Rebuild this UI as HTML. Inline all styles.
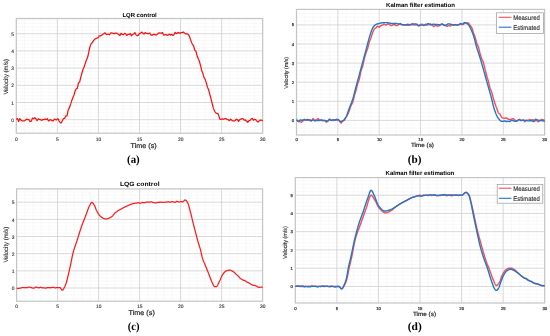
<!DOCTYPE html>
<html><head><meta charset="utf-8"><style>
html,body{margin:0;padding:0;background:#fff;}
body{width:550px;height:336px;overflow:hidden;}
svg{display:block;text-rendering:geometricPrecision;}
.tk{font-family:"Liberation Sans",Arial,sans-serif;font-size:5.0px;fill:#333;stroke:#333;stroke-width:0.12px;}
.tt{font-family:"Liberation Sans",Arial,sans-serif;font-weight:bold;fill:#000;}
.xl{font-family:"Liberation Sans",Arial,sans-serif;fill:#1e1e1e;stroke:#1e1e1e;stroke-width:0.2px;}
.yl{font-family:"Liberation Sans",Arial,sans-serif;fill:#2a2a2a;stroke:#2a2a2a;stroke-width:0.12px;}
.lg{font-family:"Liberation Sans",Arial,sans-serif;fill:#1a1a1a;stroke:#1a1a1a;stroke-width:0.1px;}
.pl{font-family:"Liberation Serif","Times New Roman",serif;font-weight:bold;fill:#000;}
</style></head><body>
<svg width="550" height="336" viewBox="0 0 550 336">
<rect width="550" height="336" fill="#fff"/>
<path d="M24.51 18.50V133.20 M32.73 18.50V133.20 M40.94 18.50V133.20 M49.15 18.50V133.20 M65.58 18.50V133.20 M73.79 18.50V133.20 M82.01 18.50V133.20 M90.22 18.50V133.20 M106.65 18.50V133.20 M114.86 18.50V133.20 M123.07 18.50V133.20 M131.29 18.50V133.20 M147.71 18.50V133.20 M155.93 18.50V133.20 M164.14 18.50V133.20 M172.35 18.50V133.20 M188.78 18.50V133.20 M196.99 18.50V133.20 M205.21 18.50V133.20 M213.42 18.50V133.20 M229.85 18.50V133.20 M238.06 18.50V133.20 M246.27 18.50V133.20 M254.49 18.50V133.20 M16.30 130.02H262.70 M16.30 126.58H262.70 M16.30 123.14H262.70 M16.30 116.26H262.70 M16.30 112.82H262.70 M16.30 109.38H262.70 M16.30 105.94H262.70 M16.30 99.06H262.70 M16.30 95.62H262.70 M16.30 92.18H262.70 M16.30 88.74H262.70 M16.30 81.86H262.70 M16.30 78.42H262.70 M16.30 74.98H262.70 M16.30 71.54H262.70 M16.30 64.66H262.70 M16.30 61.22H262.70 M16.30 57.78H262.70 M16.30 54.34H262.70 M16.30 47.46H262.70 M16.30 44.02H262.70 M16.30 40.58H262.70 M16.30 37.14H262.70 M16.30 30.26H262.70 M16.30 26.82H262.70 M16.30 23.38H262.70 M16.30 19.94H262.70" stroke="#f5f5f5" stroke-width="0.6" fill="none"/>
<path d="M57.37 18.50V133.20 M98.43 18.50V133.20 M139.50 18.50V133.20 M180.57 18.50V133.20 M221.63 18.50V133.20 M16.30 119.70H262.70 M16.30 102.50H262.70 M16.30 85.30H262.70 M16.30 68.10H262.70 M16.30 50.90H262.70 M16.30 33.70H262.70" stroke="#cfcfcf" stroke-width="0.8" fill="none"/>
<rect x="16.30" y="18.50" width="246.40" height="114.70" fill="none" stroke="#c4c4c4" stroke-width="1.2"/>
<text x="16.40" y="140.65" class="tk" text-anchor="middle" style="font-size:4.90px;stroke-width:0.12px">0</text>
<text x="57.47" y="140.65" class="tk" text-anchor="middle" style="font-size:4.90px;stroke-width:0.12px">5</text>
<text x="98.53" y="140.65" class="tk" text-anchor="middle" style="font-size:4.90px;stroke-width:0.12px">10</text>
<text x="139.60" y="140.65" class="tk" text-anchor="middle" style="font-size:4.90px;stroke-width:0.12px">15</text>
<text x="180.67" y="140.65" class="tk" text-anchor="middle" style="font-size:4.90px;stroke-width:0.12px">20</text>
<text x="221.73" y="140.65" class="tk" text-anchor="middle" style="font-size:4.90px;stroke-width:0.12px">25</text>
<text x="262.80" y="140.65" class="tk" text-anchor="middle" style="font-size:4.90px;stroke-width:0.12px">30</text>
<text x="14.10" y="121.85" class="tk" text-anchor="end" style="font-size:4.90px;stroke-width:0.12px">0</text>
<text x="14.10" y="104.65" class="tk" text-anchor="end" style="font-size:4.90px;stroke-width:0.12px">1</text>
<text x="14.10" y="87.45" class="tk" text-anchor="end" style="font-size:4.90px;stroke-width:0.12px">2</text>
<text x="14.10" y="70.25" class="tk" text-anchor="end" style="font-size:4.90px;stroke-width:0.12px">3</text>
<text x="14.10" y="53.05" class="tk" text-anchor="end" style="font-size:4.90px;stroke-width:0.12px">4</text>
<text x="14.10" y="35.85" class="tk" text-anchor="end" style="font-size:4.90px;stroke-width:0.12px">5</text>
<path d="M304.77 9.40V135.00 M313.04 9.40V135.00 M321.31 9.40V135.00 M329.58 9.40V135.00 M346.12 9.40V135.00 M354.39 9.40V135.00 M362.66 9.40V135.00 M370.93 9.40V135.00 M387.47 9.40V135.00 M395.74 9.40V135.00 M404.01 9.40V135.00 M412.28 9.40V135.00 M428.82 9.40V135.00 M437.09 9.40V135.00 M445.36 9.40V135.00 M453.63 9.40V135.00 M470.17 9.40V135.00 M478.44 9.40V135.00 M486.71 9.40V135.00 M494.98 9.40V135.00 M511.52 9.40V135.00 M519.79 9.40V135.00 M528.06 9.40V135.00 M536.33 9.40V135.00 M296.50 131.86H544.60 M296.50 128.04H544.60 M296.50 124.22H544.60 M296.50 116.58H544.60 M296.50 112.76H544.60 M296.50 108.94H544.60 M296.50 105.12H544.60 M296.50 97.48H544.60 M296.50 93.66H544.60 M296.50 89.84H544.60 M296.50 86.02H544.60 M296.50 78.38H544.60 M296.50 74.56H544.60 M296.50 70.74H544.60 M296.50 66.92H544.60 M296.50 59.28H544.60 M296.50 55.46H544.60 M296.50 51.64H544.60 M296.50 47.82H544.60 M296.50 40.18H544.60 M296.50 36.36H544.60 M296.50 32.54H544.60 M296.50 28.72H544.60 M296.50 21.08H544.60 M296.50 17.26H544.60 M296.50 13.44H544.60" stroke="#f5f5f5" stroke-width="0.6" fill="none"/>
<path d="M337.85 9.40V135.00 M379.20 9.40V135.00 M420.55 9.40V135.00 M461.90 9.40V135.00 M503.25 9.40V135.00 M296.50 120.40H544.60 M296.50 101.30H544.60 M296.50 82.20H544.60 M296.50 63.10H544.60 M296.50 44.00H544.60 M296.50 24.90H544.60" stroke="#cfcfcf" stroke-width="0.8" fill="none"/>
<rect x="296.50" y="9.40" width="248.10" height="125.60" fill="none" stroke="#c4c4c4" stroke-width="1.2"/>
<text x="296.60" y="141.24" class="tk" text-anchor="middle" style="font-size:4.30px;stroke-width:0.22px">0</text>
<text x="337.95" y="141.24" class="tk" text-anchor="middle" style="font-size:4.30px;stroke-width:0.22px">5</text>
<text x="379.30" y="141.24" class="tk" text-anchor="middle" style="font-size:4.30px;stroke-width:0.22px">10</text>
<text x="420.65" y="141.24" class="tk" text-anchor="middle" style="font-size:4.30px;stroke-width:0.22px">15</text>
<text x="462.00" y="141.24" class="tk" text-anchor="middle" style="font-size:4.30px;stroke-width:0.22px">20</text>
<text x="503.35" y="141.24" class="tk" text-anchor="middle" style="font-size:4.30px;stroke-width:0.22px">25</text>
<text x="544.70" y="141.24" class="tk" text-anchor="middle" style="font-size:4.30px;stroke-width:0.22px">30</text>
<text x="294.10" y="121.94" class="tk" text-anchor="end" style="font-size:4.30px;stroke-width:0.22px">0</text>
<text x="294.10" y="102.84" class="tk" text-anchor="end" style="font-size:4.30px;stroke-width:0.22px">1</text>
<text x="294.10" y="83.74" class="tk" text-anchor="end" style="font-size:4.30px;stroke-width:0.22px">2</text>
<text x="294.10" y="64.64" class="tk" text-anchor="end" style="font-size:4.30px;stroke-width:0.22px">3</text>
<text x="294.10" y="45.54" class="tk" text-anchor="end" style="font-size:4.30px;stroke-width:0.22px">4</text>
<text x="294.10" y="26.44" class="tk" text-anchor="end" style="font-size:4.30px;stroke-width:0.22px">5</text>
<path d="M24.80 188.90V301.20 M33.00 188.90V301.20 M41.20 188.90V301.20 M49.40 188.90V301.20 M65.80 188.90V301.20 M74.00 188.90V301.20 M82.20 188.90V301.20 M90.40 188.90V301.20 M106.80 188.90V301.20 M115.00 188.90V301.20 M123.20 188.90V301.20 M131.40 188.90V301.20 M147.80 188.90V301.20 M156.00 188.90V301.20 M164.20 188.90V301.20 M172.40 188.90V301.20 M188.80 188.90V301.20 M197.00 188.90V301.20 M205.20 188.90V301.20 M213.40 188.90V301.20 M229.80 188.90V301.20 M238.00 188.90V301.20 M246.20 188.90V301.20 M254.40 188.90V301.20 M16.60 298.30H262.60 M16.60 294.86H262.60 M16.60 291.43H262.60 M16.60 284.57H262.60 M16.60 281.14H262.60 M16.60 277.70H262.60 M16.60 274.27H262.60 M16.60 267.41H262.60 M16.60 263.98H262.60 M16.60 260.54H262.60 M16.60 257.11H262.60 M16.60 250.25H262.60 M16.60 246.82H262.60 M16.60 243.38H262.60 M16.60 239.95H262.60 M16.60 233.09H262.60 M16.60 229.66H262.60 M16.60 226.22H262.60 M16.60 222.79H262.60 M16.60 215.93H262.60 M16.60 212.50H262.60 M16.60 209.06H262.60 M16.60 205.63H262.60 M16.60 198.77H262.60 M16.60 195.34H262.60 M16.60 191.90H262.60" stroke="#f5f5f5" stroke-width="0.6" fill="none"/>
<path d="M57.60 188.90V301.20 M98.60 188.90V301.20 M139.60 188.90V301.20 M180.60 188.90V301.20 M221.60 188.90V301.20 M16.60 288.00H262.60 M16.60 270.84H262.60 M16.60 253.68H262.60 M16.60 236.52H262.60 M16.60 219.36H262.60 M16.60 202.20H262.60" stroke="#cfcfcf" stroke-width="0.8" fill="none"/>
<rect x="16.60" y="188.90" width="246.00" height="112.30" fill="none" stroke="#c4c4c4" stroke-width="1.2"/>
<text x="16.70" y="308.15" class="tk" text-anchor="middle" style="font-size:4.90px;stroke-width:0.12px">0</text>
<text x="57.70" y="308.15" class="tk" text-anchor="middle" style="font-size:4.90px;stroke-width:0.12px">5</text>
<text x="98.70" y="308.15" class="tk" text-anchor="middle" style="font-size:4.90px;stroke-width:0.12px">10</text>
<text x="139.70" y="308.15" class="tk" text-anchor="middle" style="font-size:4.90px;stroke-width:0.12px">15</text>
<text x="180.70" y="308.15" class="tk" text-anchor="middle" style="font-size:4.90px;stroke-width:0.12px">20</text>
<text x="221.70" y="308.15" class="tk" text-anchor="middle" style="font-size:4.90px;stroke-width:0.12px">25</text>
<text x="262.70" y="308.15" class="tk" text-anchor="middle" style="font-size:4.90px;stroke-width:0.12px">30</text>
<text x="14.40" y="290.25" class="tk" text-anchor="end" style="font-size:4.90px;stroke-width:0.12px">0</text>
<text x="14.40" y="273.09" class="tk" text-anchor="end" style="font-size:4.90px;stroke-width:0.12px">1</text>
<text x="14.40" y="255.93" class="tk" text-anchor="end" style="font-size:4.90px;stroke-width:0.12px">2</text>
<text x="14.40" y="238.77" class="tk" text-anchor="end" style="font-size:4.90px;stroke-width:0.12px">3</text>
<text x="14.40" y="221.61" class="tk" text-anchor="end" style="font-size:4.90px;stroke-width:0.12px">4</text>
<text x="14.40" y="204.45" class="tk" text-anchor="end" style="font-size:4.90px;stroke-width:0.12px">5</text>
<path d="M303.61 177.60V303.00 M311.93 177.60V303.00 M320.24 177.60V303.00 M328.55 177.60V303.00 M345.18 177.60V303.00 M353.49 177.60V303.00 M361.81 177.60V303.00 M370.12 177.60V303.00 M386.75 177.60V303.00 M395.06 177.60V303.00 M403.37 177.60V303.00 M411.69 177.60V303.00 M428.31 177.60V303.00 M436.63 177.60V303.00 M444.94 177.60V303.00 M453.25 177.60V303.00 M469.88 177.60V303.00 M478.19 177.60V303.00 M486.51 177.60V303.00 M494.82 177.60V303.00 M511.45 177.60V303.00 M519.76 177.60V303.00 M528.07 177.60V303.00 M536.39 177.60V303.00 M295.30 300.99H544.70 M295.30 297.34H544.70 M295.30 293.70H544.70 M295.30 290.05H544.70 M295.30 282.75H544.70 M295.30 279.10H544.70 M295.30 275.46H544.70 M295.30 271.81H544.70 M295.30 264.51H544.70 M295.30 260.86H544.70 M295.30 257.22H544.70 M295.30 253.57H544.70 M295.30 246.27H544.70 M295.30 242.62H544.70 M295.30 238.98H544.70 M295.30 235.33H544.70 M295.30 228.03H544.70 M295.30 224.38H544.70 M295.30 220.74H544.70 M295.30 217.09H544.70 M295.30 209.79H544.70 M295.30 206.14H544.70 M295.30 202.50H544.70 M295.30 198.85H544.70 M295.30 191.55H544.70 M295.30 187.90H544.70 M295.30 184.26H544.70 M295.30 180.61H544.70" stroke="#f5f5f5" stroke-width="0.6" fill="none"/>
<path d="M336.87 177.60V303.00 M378.43 177.60V303.00 M420.00 177.60V303.00 M461.57 177.60V303.00 M503.13 177.60V303.00 M295.30 286.40H544.70 M295.30 268.16H544.70 M295.30 249.92H544.70 M295.30 231.68H544.70 M295.30 213.44H544.70 M295.30 195.20H544.70" stroke="#cfcfcf" stroke-width="0.8" fill="none"/>
<rect x="295.30" y="177.60" width="249.40" height="125.40" fill="none" stroke="#c4c4c4" stroke-width="1.2"/>
<text x="295.40" y="309.54" class="tk" text-anchor="middle" style="font-size:4.30px;stroke-width:0.22px">0</text>
<text x="336.97" y="309.54" class="tk" text-anchor="middle" style="font-size:4.30px;stroke-width:0.22px">5</text>
<text x="378.53" y="309.54" class="tk" text-anchor="middle" style="font-size:4.30px;stroke-width:0.22px">10</text>
<text x="420.10" y="309.54" class="tk" text-anchor="middle" style="font-size:4.30px;stroke-width:0.22px">15</text>
<text x="461.67" y="309.54" class="tk" text-anchor="middle" style="font-size:4.30px;stroke-width:0.22px">20</text>
<text x="503.23" y="309.54" class="tk" text-anchor="middle" style="font-size:4.30px;stroke-width:0.22px">25</text>
<text x="544.80" y="309.54" class="tk" text-anchor="middle" style="font-size:4.30px;stroke-width:0.22px">30</text>
<text x="292.90" y="288.14" class="tk" text-anchor="end" style="font-size:4.30px;stroke-width:0.22px">0</text>
<text x="292.90" y="269.90" class="tk" text-anchor="end" style="font-size:4.30px;stroke-width:0.22px">1</text>
<text x="292.90" y="251.66" class="tk" text-anchor="end" style="font-size:4.30px;stroke-width:0.22px">2</text>
<text x="292.90" y="233.42" class="tk" text-anchor="end" style="font-size:4.30px;stroke-width:0.22px">3</text>
<text x="292.90" y="215.18" class="tk" text-anchor="end" style="font-size:4.30px;stroke-width:0.22px">4</text>
<text x="292.90" y="196.94" class="tk" text-anchor="end" style="font-size:4.30px;stroke-width:0.22px">5</text>
<path d="M16.30 119.41 L16.46 119.28 L16.63 119.15 L16.79 119.02 L16.96 118.90 L17.12 118.77 L17.29 118.64 L17.45 118.52 L17.62 118.93 L17.78 119.35 L17.94 119.77 L18.11 120.19 L18.27 120.61 L18.44 121.03 L18.60 121.45 L18.77 121.04 L18.93 120.63 L19.09 120.22 L19.26 119.81 L19.42 119.39 L19.59 118.98 L19.75 118.56 L19.92 118.77 L20.08 119.00 L20.25 119.22 L20.41 119.44 L20.57 119.66 L20.74 119.88 L20.90 120.10 L21.07 120.20 L21.23 120.30 L21.40 120.40 L21.56 120.50 L21.72 120.60 L21.89 120.70 L22.05 120.80 L22.22 120.82 L22.38 120.82 L22.55 120.83 L22.71 120.84 L22.88 120.85 L23.04 120.83 L23.20 120.82 L23.37 120.84 L23.53 120.86 L23.70 120.88 L23.86 120.90 L24.03 120.92 L24.19 120.94 L24.35 120.96 L24.52 120.84 L24.68 120.72 L24.85 120.60 L25.01 120.48 L25.18 120.36 L25.34 120.24 L25.51 120.12 L25.67 119.98 L25.83 119.83 L26.00 119.69 L26.16 119.55 L26.33 119.44 L26.49 119.33 L26.66 119.22 L26.82 119.26 L26.98 119.31 L27.15 119.37 L27.31 119.42 L27.48 119.47 L27.64 119.52 L27.81 119.57 L27.97 119.59 L28.14 119.60 L28.30 119.62 L28.46 119.63 L28.63 119.64 L28.79 119.66 L28.96 119.67 L29.12 119.96 L29.29 120.27 L29.45 120.58 L29.61 120.82 L29.78 121.06 L29.94 121.30 L30.11 121.55 L30.27 121.51 L30.44 121.45 L30.60 121.39 L30.77 121.33 L30.93 121.27 L31.09 121.21 L31.26 121.15 L31.42 120.75 L31.59 120.32 L31.75 119.89 L31.92 119.47 L32.08 119.04 L32.24 118.61 L32.41 118.18 L32.57 118.18 L32.74 118.21 L32.90 118.30 L33.07 118.39 L33.23 118.47 L33.40 118.56 L33.56 118.64 L33.72 118.53 L33.89 118.39 L34.05 118.26 L34.22 118.12 L34.38 117.99 L34.55 117.85 L34.71 117.72 L34.87 117.83 L35.04 117.96 L35.20 118.10 L35.37 118.23 L35.53 118.36 L35.70 118.50 L35.86 118.63 L36.03 118.91 L36.19 119.20 L36.35 119.49 L36.52 119.77 L36.68 120.06 L36.85 120.35 L37.01 120.64 L37.18 120.42 L37.34 120.15 L37.50 119.88 L37.67 119.61 L37.83 119.34 L38.00 119.08 L38.16 118.81 L38.33 118.87 L38.49 118.97 L38.66 119.06 L38.82 119.16 L38.98 119.25 L39.15 119.35 L39.31 119.44 L39.48 119.47 L39.64 119.50 L39.81 119.53 L39.97 119.56 L40.13 119.59 L40.30 119.62 L40.46 119.64 L40.63 119.74 L40.79 119.85 L40.96 119.95 L41.12 120.06 L41.29 120.16 L41.45 120.27 L41.61 120.37 L41.78 120.28 L41.94 120.15 L42.11 120.03 L42.27 119.91 L42.44 119.78 L42.60 119.66 L42.76 119.57 L42.93 119.59 L43.09 119.61 L43.26 119.64 L43.42 119.67 L43.59 119.69 L43.75 119.72 L43.92 119.74 L44.08 119.64 L44.24 119.52 L44.41 119.40 L44.57 119.28 L44.74 119.16 L44.90 119.04 L45.07 118.92 L45.23 119.00 L45.39 119.10 L45.56 119.21 L45.72 119.31 L45.89 119.41 L46.05 119.55 L46.22 119.68 L46.38 119.57 L46.55 119.43 L46.71 119.29 L46.87 119.15 L47.04 119.01 L47.20 118.87 L47.37 118.73 L47.53 119.00 L47.70 119.32 L47.86 119.65 L48.02 119.98 L48.19 120.31 L48.35 120.64 L48.52 120.96 L48.68 120.91 L48.85 120.79 L49.01 120.68 L49.18 120.55 L49.34 120.36 L49.50 120.18 L49.67 119.99 L49.83 119.93 L50.00 119.89 L50.16 119.85 L50.33 119.81 L50.49 119.77 L50.65 119.73 L50.82 119.70 L50.98 119.80 L51.15 119.94 L51.31 120.07 L51.48 120.20 L51.64 120.33 L51.81 120.46 L51.97 120.59 L52.13 120.62 L52.30 120.62 L52.46 120.63 L52.63 120.68 L52.79 120.72 L52.96 120.77 L53.12 120.82 L53.28 120.60 L53.45 120.34 L53.61 120.08 L53.78 119.82 L53.94 119.56 L54.11 119.30 L54.27 119.03 L54.44 119.05 L54.60 119.12 L54.76 119.19 L54.93 119.26 L55.09 119.33 L55.26 119.40 L55.42 119.47 L55.59 119.55 L55.75 119.65 L55.91 119.74 L56.08 119.81 L56.24 119.84 L56.41 119.86 L56.57 119.86 L56.74 119.72 L56.90 119.55 L57.07 119.37 L57.23 119.20 L57.39 119.04 L57.56 118.89 L57.72 118.76 L57.89 118.82 L58.05 118.94 L58.22 119.10 L58.38 119.33 L58.54 119.65 L58.71 120.05 L58.87 120.51 L59.04 120.81 L59.20 121.04 L59.37 121.29 L59.53 121.54 L59.70 121.77 L59.86 121.98 L60.02 122.14 L60.19 122.42 L60.35 122.67 L60.52 122.83 L60.68 122.90 L60.85 122.92 L61.01 122.89 L61.17 122.83 L61.34 122.58 L61.50 122.28 L61.67 121.96 L61.83 121.64 L62.00 121.32 L62.16 121.01 L62.33 120.72 L62.49 120.43 L62.65 120.15 L62.82 119.86 L62.98 119.58 L63.15 119.29 L63.31 119.00 L63.48 118.70 L63.64 118.62 L63.80 118.58 L63.97 118.54 L64.13 118.49 L64.30 118.45 L64.46 118.39 L64.63 118.34 L64.79 118.03 L64.96 117.66 L65.12 117.30 L65.28 116.95 L65.45 116.59 L65.61 116.23 L65.78 115.92 L65.94 115.90 L66.11 115.94 L66.27 115.96 L66.43 115.96 L66.60 115.95 L66.76 115.90 L66.93 115.83 L67.09 115.43 L67.26 114.81 L67.42 114.06 L67.59 113.22 L67.75 112.34 L67.91 111.44 L68.08 110.57 L68.24 109.95 L68.41 109.47 L68.57 109.14 L68.74 108.90 L68.90 108.67 L69.06 108.42 L69.23 108.20 L69.39 107.76 L69.56 107.28 L69.72 106.80 L69.89 106.32 L70.05 105.83 L70.22 105.33 L70.38 104.80 L70.54 104.34 L70.71 103.88 L70.87 103.41 L71.04 102.92 L71.20 102.41 L71.37 101.90 L71.53 101.37 L71.69 100.88 L71.86 100.40 L72.02 99.92 L72.19 99.45 L72.35 99.02 L72.52 98.60 L72.68 98.18 L72.85 97.76 L73.01 97.35 L73.17 96.96 L73.34 96.57 L73.50 96.19 L73.67 95.81 L73.83 95.44 L74.00 94.92 L74.16 94.35 L74.32 93.79 L74.49 93.22 L74.65 92.66 L74.82 92.09 L74.98 91.53 L75.15 91.10 L75.31 90.71 L75.48 90.33 L75.64 89.98 L75.80 89.63 L75.97 89.27 L76.13 88.90 L76.30 88.77 L76.46 88.71 L76.63 88.64 L76.79 88.56 L76.95 88.47 L77.12 88.37 L77.28 88.26 L77.45 87.68 L77.61 86.95 L77.78 86.21 L77.94 85.46 L78.11 84.71 L78.27 83.96 L78.43 83.21 L78.60 82.94 L78.76 82.82 L78.93 82.64 L79.09 82.47 L79.26 82.29 L79.42 82.12 L79.58 81.96 L79.75 81.44 L79.91 80.80 L80.08 80.15 L80.24 79.50 L80.41 78.85 L80.57 78.20 L80.74 77.55 L80.90 76.93 L81.06 76.33 L81.23 75.73 L81.39 75.13 L81.56 74.53 L81.72 73.92 L81.89 73.32 L82.05 72.75 L82.21 72.17 L82.38 71.59 L82.54 71.02 L82.71 70.45 L82.87 69.88 L83.04 69.31 L83.20 68.87 L83.37 68.49 L83.53 68.11 L83.69 67.74 L83.86 67.37 L84.02 67.02 L84.19 66.67 L84.35 66.20 L84.52 65.69 L84.68 65.18 L84.84 64.68 L85.01 64.17 L85.17 63.67 L85.34 63.20 L85.50 62.75 L85.67 62.28 L85.83 61.80 L86.00 61.32 L86.16 60.83 L86.32 60.34 L86.49 59.83 L86.65 59.45 L86.82 59.11 L86.98 58.75 L87.15 58.38 L87.31 57.99 L87.47 57.56 L87.64 57.09 L87.80 56.49 L87.97 55.82 L88.13 55.13 L88.30 54.42 L88.46 53.70 L88.63 52.96 L88.79 52.20 L88.95 51.35 L89.12 50.48 L89.28 49.65 L89.45 48.86 L89.61 48.13 L89.78 47.47 L89.94 46.86 L90.10 46.36 L90.27 45.91 L90.43 45.48 L90.60 45.07 L90.76 44.67 L90.93 44.29 L91.09 43.92 L91.26 43.67 L91.42 43.48 L91.58 43.31 L91.75 43.15 L91.91 42.99 L92.08 42.82 L92.24 42.67 L92.41 42.43 L92.57 42.16 L92.73 41.89 L92.90 41.63 L93.06 41.38 L93.23 41.13 L93.39 40.89 L93.56 40.66 L93.72 40.44 L93.89 40.23 L94.05 40.03 L94.21 39.83 L94.38 39.63 L94.54 39.44 L94.71 39.29 L94.87 39.17 L95.04 39.04 L95.20 38.94 L95.36 38.86 L95.53 38.79 L95.69 38.73 L95.86 38.63 L96.02 38.53 L96.19 38.43 L96.35 38.33 L96.52 38.23 L96.68 38.13 L96.84 38.04 L97.01 37.99 L97.17 37.96 L97.34 37.94 L97.50 37.91 L97.67 37.89 L97.83 37.87 L97.99 37.86 L98.16 37.66 L98.32 37.38 L98.49 37.09 L98.65 36.79 L98.82 36.49 L98.98 36.19 L99.15 35.90 L99.31 35.80 L99.47 35.81 L99.64 35.82 L99.80 35.83 L99.97 35.84 L100.13 35.84 L100.30 35.85 L100.46 35.80 L100.63 35.73 L100.79 35.65 L100.95 35.57 L101.12 35.50 L101.28 35.43 L101.45 35.36 L101.61 35.26 L101.78 35.14 L101.94 34.99 L102.10 34.85 L102.27 34.72 L102.43 34.59 L102.60 34.47 L102.76 34.35 L102.93 34.24 L103.09 34.14 L103.26 34.05 L103.42 33.96 L103.58 33.88 L103.75 33.80 L103.91 33.67 L104.08 33.52 L104.24 33.37 L104.41 33.22 L104.57 33.06 L104.73 32.91 L104.90 32.76 L105.06 32.83 L105.23 33.06 L105.39 33.28 L105.56 33.50 L105.72 33.72 L105.89 33.94 L106.05 34.17 L106.21 34.27 L106.38 34.30 L106.54 34.33 L106.71 34.36 L106.87 34.39 L107.04 34.42 L107.20 34.45 L107.36 34.42 L107.53 34.36 L107.69 34.30 L107.86 34.24 L108.02 34.18 L108.19 34.12 L108.35 34.05 L108.52 34.09 L108.68 34.20 L108.84 34.31 L109.01 34.42 L109.17 34.53 L109.34 34.64 L109.50 34.75 L109.67 34.61 L109.83 34.34 L109.99 34.06 L110.16 33.78 L110.32 33.50 L110.49 33.22 L110.65 32.94 L110.82 32.85 L110.98 32.87 L111.15 32.90 L111.31 32.92 L111.47 32.95 L111.64 32.98 L111.80 33.01 L111.97 33.04 L112.13 33.06 L112.30 33.08 L112.46 33.10 L112.62 33.12 L112.79 33.14 L112.95 33.16 L113.12 33.23 L113.28 33.32 L113.45 33.41 L113.61 33.50 L113.78 33.60 L113.94 33.69 L114.10 33.78 L114.27 33.75 L114.43 33.64 L114.60 33.53 L114.76 33.41 L114.93 33.32 L115.09 33.24 L115.25 33.17 L115.42 33.13 L115.58 33.13 L115.75 33.12 L115.91 33.11 L116.08 33.11 L116.24 33.10 L116.41 33.09 L116.57 33.15 L116.73 33.25 L116.90 33.35 L117.06 33.45 L117.23 33.54 L117.39 33.64 L117.56 33.74 L117.72 33.86 L117.88 33.99 L118.05 34.11 L118.21 34.22 L118.38 34.30 L118.54 34.38 L118.71 34.46 L118.87 34.59 L119.04 34.74 L119.20 34.90 L119.36 35.06 L119.53 35.21 L119.69 35.37 L119.86 35.53 L120.02 35.40 L120.19 35.06 L120.35 34.72 L120.51 34.38 L120.68 34.04 L120.84 33.71 L121.01 33.37 L121.17 33.31 L121.34 33.45 L121.50 33.60 L121.67 33.76 L121.83 33.92 L121.99 34.08 L122.16 34.25 L122.32 34.35 L122.49 34.41 L122.65 34.47 L122.82 34.53 L122.98 34.60 L123.14 34.66 L123.31 34.72 L123.47 34.63 L123.64 34.42 L123.80 34.20 L123.97 33.99 L124.13 33.78 L124.30 33.57 L124.46 33.36 L124.62 33.30 L124.79 33.38 L124.95 33.45 L125.12 33.53 L125.28 33.61 L125.45 33.69 L125.61 33.77 L125.77 33.93 L125.94 34.15 L126.10 34.38 L126.27 34.60 L126.43 34.83 L126.60 35.05 L126.76 35.28 L126.93 35.30 L127.09 35.14 L127.25 34.99 L127.42 34.84 L127.58 34.69 L127.75 34.54 L127.91 34.38 L128.08 34.33 L128.24 34.35 L128.40 34.38 L128.57 34.40 L128.73 34.43 L128.90 34.45 L129.06 34.48 L129.23 34.41 L129.39 34.26 L129.56 34.11 L129.72 33.96 L129.88 33.80 L130.05 33.65 L130.21 33.50 L130.38 33.63 L130.54 33.98 L130.71 34.34 L130.87 34.70 L131.03 35.06 L131.20 35.42 L131.36 35.76 L131.53 35.80 L131.69 35.58 L131.86 35.37 L132.02 35.15 L132.19 34.94 L132.35 34.72 L132.51 34.51 L132.68 34.37 L132.84 34.31 L133.01 34.25 L133.17 34.19 L133.34 34.13 L133.50 34.07 L133.66 34.01 L133.83 33.87 L133.99 33.65 L134.16 33.43 L134.32 33.20 L134.49 32.98 L134.65 32.78 L134.82 32.60 L134.98 32.68 L135.14 33.00 L135.31 33.32 L135.47 33.64 L135.64 33.96 L135.80 34.28 L135.97 34.60 L136.13 34.83 L136.29 34.98 L136.46 35.12 L136.62 35.27 L136.79 35.42 L136.95 35.57 L137.12 35.72 L137.28 35.75 L137.45 35.66 L137.61 35.57 L137.77 35.48 L137.94 35.38 L138.10 35.27 L138.27 35.16 L138.43 34.99 L138.60 34.78 L138.76 34.56 L138.92 34.35 L139.09 34.13 L139.25 33.92 L139.42 33.71 L139.58 33.56 L139.75 33.48 L139.91 33.40 L140.08 33.32 L140.24 33.24 L140.40 33.16 L140.57 33.08 L140.73 32.98 L140.90 32.85 L141.06 32.73 L141.23 32.60 L141.39 32.47 L141.55 32.34 L141.72 32.21 L141.88 32.21 L142.05 32.36 L142.21 32.51 L142.38 32.65 L142.54 32.80 L142.71 32.94 L142.87 33.09 L143.03 33.23 L143.20 33.36 L143.36 33.49 L143.53 33.62 L143.69 33.75 L143.86 33.88 L144.02 34.01 L144.18 33.97 L144.35 33.75 L144.51 33.53 L144.68 33.32 L144.84 33.12 L145.01 32.91 L145.17 32.70 L145.34 32.64 L145.50 32.75 L145.66 32.86 L145.83 32.97 L145.99 33.08 L146.16 33.19 L146.32 33.30 L146.49 33.37 L146.65 33.39 L146.81 33.42 L146.98 33.44 L147.14 33.46 L147.31 33.48 L147.47 33.51 L147.64 33.51 L147.80 33.51 L147.97 33.54 L148.13 33.57 L148.29 33.59 L148.46 33.62 L148.62 33.65 L148.79 33.62 L148.95 33.52 L149.12 33.42 L149.28 33.32 L149.44 33.22 L149.61 33.12 L149.77 33.02 L149.94 33.11 L150.10 33.44 L150.27 33.76 L150.43 34.08 L150.60 34.40 L150.76 34.72 L150.92 35.05 L151.09 35.22 L151.25 35.23 L151.42 35.24 L151.58 35.24 L151.75 35.25 L151.91 35.26 L152.07 35.27 L152.24 35.22 L152.40 35.09 L152.57 34.97 L152.73 34.84 L152.90 34.72 L153.06 34.60 L153.23 34.47 L153.39 34.40 L153.55 34.39 L153.72 34.38 L153.88 34.38 L154.05 34.37 L154.21 34.36 L154.38 34.35 L154.54 34.38 L154.70 34.45 L154.87 34.53 L155.03 34.61 L155.20 34.68 L155.36 34.76 L155.53 34.83 L155.69 34.87 L155.86 34.87 L156.02 34.86 L156.18 34.85 L156.35 34.84 L156.51 34.83 L156.68 34.83 L156.84 34.75 L157.01 34.58 L157.17 34.41 L157.33 34.24 L157.50 34.07 L157.66 33.90 L157.83 33.74 L157.99 33.59 L158.16 33.46 L158.32 33.33 L158.49 33.20 L158.65 33.07 L158.81 32.95 L158.98 32.82 L159.14 32.77 L159.31 32.84 L159.47 32.90 L159.64 32.97 L159.80 33.04 L159.96 33.10 L160.13 33.17 L160.29 33.21 L160.46 33.20 L160.62 33.19 L160.79 33.19 L160.95 33.17 L161.12 33.15 L161.28 33.14 L161.44 33.09 L161.61 33.00 L161.77 32.91 L161.94 32.82 L162.10 32.73 L162.27 32.64 L162.43 32.54 L162.59 32.64 L162.76 33.02 L162.92 33.40 L163.09 33.77 L163.25 34.15 L163.42 34.52 L163.58 34.90 L163.75 35.09 L163.91 35.01 L164.07 34.93 L164.24 34.89 L164.40 34.88 L164.57 34.87 L164.73 34.86 L164.90 34.83 L165.06 34.78 L165.22 34.73 L165.39 34.68 L165.55 34.63 L165.72 34.58 L165.88 34.53 L166.05 34.54 L166.21 34.65 L166.38 34.76 L166.54 34.86 L166.70 34.97 L166.87 35.08 L167.03 35.19 L167.20 35.26 L167.36 35.29 L167.53 35.27 L167.69 35.23 L167.85 35.19 L168.02 35.15 L168.18 35.11 L168.35 35.03 L168.51 34.89 L168.68 34.74 L168.84 34.60 L169.01 34.45 L169.17 34.31 L169.33 34.17 L169.50 34.13 L169.66 34.28 L169.83 34.44 L169.99 34.59 L170.16 34.74 L170.32 34.89 L170.48 35.04 L170.65 35.09 L170.81 34.97 L170.98 34.85 L171.14 34.73 L171.31 34.61 L171.47 34.48 L171.64 34.36 L171.80 34.35 L171.96 34.53 L172.13 34.71 L172.29 34.88 L172.46 35.06 L172.62 35.24 L172.79 35.41 L172.95 35.47 L173.11 35.32 L173.28 35.17 L173.44 35.02 L173.61 34.87 L173.77 34.72 L173.94 34.57 L174.10 34.36 L174.27 34.05 L174.43 33.74 L174.59 33.43 L174.76 33.11 L174.92 32.80 L175.09 32.49 L175.25 32.36 L175.42 32.57 L175.58 32.77 L175.74 32.98 L175.91 33.18 L176.07 33.39 L176.24 33.59 L176.40 33.68 L176.57 33.54 L176.73 33.41 L176.90 33.28 L177.06 33.14 L177.22 33.01 L177.39 32.89 L177.55 32.80 L177.72 32.75 L177.88 32.69 L178.05 32.64 L178.21 32.59 L178.37 32.54 L178.54 32.48 L178.70 32.50 L178.87 32.64 L179.03 32.78 L179.20 32.92 L179.36 33.06 L179.53 33.20 L179.69 33.34 L179.85 33.39 L180.02 33.25 L180.18 33.12 L180.35 32.98 L180.51 32.84 L180.68 32.74 L180.84 32.65 L181.01 32.60 L181.17 32.64 L181.33 32.68 L181.50 32.70 L181.66 32.71 L181.83 32.71 L181.99 32.71 L182.16 32.67 L182.32 32.55 L182.48 32.44 L182.65 32.33 L182.81 32.22 L182.98 32.11 L183.14 32.02 L183.31 32.00 L183.47 32.14 L183.64 32.30 L183.80 32.48 L183.96 32.61 L184.13 32.74 L184.29 32.88 L184.46 33.01 L184.62 33.11 L184.79 33.21 L184.95 33.32 L185.11 33.43 L185.28 33.55 L185.44 33.68 L185.61 33.77 L185.77 33.76 L185.94 33.75 L186.10 33.75 L186.27 33.75 L186.43 33.76 L186.59 33.77 L186.76 33.79 L186.92 33.80 L187.09 33.82 L187.25 33.86 L187.42 33.92 L187.58 33.99 L187.74 34.10 L187.91 34.22 L188.07 34.32 L188.24 34.45 L188.40 34.61 L188.57 34.78 L188.73 34.98 L188.90 35.19 L189.06 35.48 L189.22 35.94 L189.39 36.40 L189.55 36.86 L189.72 37.32 L189.88 37.77 L190.05 38.24 L190.21 38.71 L190.37 39.15 L190.54 39.57 L190.70 39.98 L190.87 40.41 L191.03 40.85 L191.20 41.29 L191.36 41.72 L191.53 42.12 L191.69 42.52 L191.85 42.91 L192.02 43.29 L192.18 43.67 L192.35 44.03 L192.51 44.35 L192.68 44.59 L192.84 44.83 L193.00 45.06 L193.17 45.30 L193.33 45.53 L193.50 45.77 L193.66 46.10 L193.83 46.73 L193.99 47.37 L194.16 48.00 L194.32 48.63 L194.48 49.25 L194.65 49.86 L194.81 50.34 L194.98 50.46 L195.14 50.58 L195.31 50.68 L195.47 50.76 L195.63 50.84 L195.80 50.92 L195.96 51.15 L196.13 51.82 L196.29 52.49 L196.46 53.16 L196.62 53.85 L196.79 54.55 L196.95 55.26 L197.11 55.88 L197.28 56.23 L197.44 56.60 L197.61 56.99 L197.77 57.40 L197.94 57.82 L198.10 58.26 L198.26 58.69 L198.43 59.05 L198.59 59.43 L198.76 59.81 L198.92 60.20 L199.09 60.59 L199.25 60.99 L199.42 61.45 L199.58 62.07 L199.74 62.69 L199.91 63.30 L200.07 63.91 L200.24 64.51 L200.40 65.10 L200.57 65.70 L200.73 66.39 L200.89 67.08 L201.06 67.76 L201.22 68.45 L201.39 69.14 L201.55 69.82 L201.72 70.44 L201.88 70.87 L202.05 71.29 L202.21 71.71 L202.37 72.13 L202.54 72.56 L202.70 72.98 L202.87 73.44 L203.03 74.02 L203.20 74.61 L203.36 75.19 L203.52 75.77 L203.69 76.33 L203.85 76.88 L204.02 77.37 L204.18 77.66 L204.35 77.94 L204.51 78.22 L204.68 78.51 L204.84 78.79 L205.00 79.06 L205.17 79.39 L205.33 79.89 L205.50 80.39 L205.66 80.89 L205.83 81.38 L205.99 81.88 L206.15 82.38 L206.32 82.91 L206.48 83.52 L206.65 84.15 L206.81 84.77 L206.98 85.40 L207.14 86.04 L207.31 86.68 L207.47 87.26 L207.63 87.62 L207.80 87.98 L207.96 88.34 L208.13 88.71 L208.29 89.07 L208.46 89.44 L208.62 89.87 L208.78 90.47 L208.95 91.08 L209.11 91.70 L209.28 92.32 L209.44 92.95 L209.61 93.58 L209.77 94.19 L209.94 94.71 L210.10 95.25 L210.26 95.86 L210.43 96.49 L210.59 97.14 L210.76 97.80 L210.92 98.46 L211.09 99.14 L211.25 99.82 L211.41 100.49 L211.58 101.15 L211.74 101.79 L211.91 102.42 L212.07 103.04 L212.24 103.70 L212.40 104.35 L212.57 105.01 L212.73 105.67 L212.89 106.34 L213.06 107.00 L213.22 107.63 L213.39 108.09 L213.55 108.49 L213.72 108.87 L213.88 109.25 L214.04 109.60 L214.21 109.94 L214.37 110.27 L214.54 110.68 L214.70 111.06 L214.87 111.41 L215.03 111.73 L215.20 112.01 L215.36 112.26 L215.52 112.46 L215.69 112.64 L215.85 112.80 L216.02 112.94 L216.18 113.06 L216.35 113.17 L216.51 113.27 L216.67 113.35 L216.84 113.36 L217.00 113.36 L217.17 113.37 L217.33 113.38 L217.50 113.40 L217.66 113.43 L217.83 113.52 L217.99 113.84 L218.15 114.18 L218.32 114.57 L218.48 115.00 L218.65 115.45 L218.81 115.92 L218.98 116.41 L219.14 116.88 L219.30 117.36 L219.47 117.82 L219.63 118.27 L219.80 118.69 L219.96 119.09 L220.13 119.40 L220.29 119.45 L220.46 119.44 L220.62 119.39 L220.78 119.34 L220.95 119.29 L221.11 119.23 L221.28 119.18 L221.44 119.15 L221.61 119.12 L221.77 119.09 L221.93 119.06 L222.10 119.02 L222.26 118.98 L222.43 118.95 L222.59 119.01 L222.76 119.07 L222.92 119.12 L223.09 119.17 L223.25 119.22 L223.41 119.26 L223.58 119.27 L223.74 119.21 L223.91 119.14 L224.07 119.07 L224.24 119.00 L224.40 118.93 L224.56 118.85 L224.73 118.79 L224.89 118.75 L225.06 118.72 L225.22 118.69 L225.39 118.66 L225.55 118.62 L225.72 118.59 L225.88 118.58 L226.04 118.69 L226.21 118.80 L226.37 118.90 L226.54 119.01 L226.70 119.16 L226.87 119.31 L227.03 119.44 L227.19 119.48 L227.36 119.52 L227.52 119.56 L227.69 119.59 L227.85 119.63 L228.02 119.67 L228.18 119.72 L228.35 119.86 L228.51 120.01 L228.67 120.15 L228.84 120.30 L229.00 120.44 L229.17 120.59 L229.33 120.69 L229.50 120.48 L229.66 120.27 L229.82 120.05 L229.99 119.81 L230.15 119.55 L230.32 119.29 L230.48 119.09 L230.65 119.24 L230.81 119.39 L230.98 119.55 L231.14 119.70 L231.30 119.85 L231.47 120.00 L231.63 120.14 L231.80 120.24 L231.96 120.33 L232.13 120.42 L232.29 120.52 L232.45 120.61 L232.62 120.70 L232.78 120.78 L232.95 120.78 L233.11 120.77 L233.28 120.81 L233.44 120.85 L233.61 120.90 L233.77 120.94 L233.93 120.97 L234.10 120.92 L234.26 120.88 L234.43 120.83 L234.59 120.78 L234.76 120.73 L234.92 120.69 L235.08 120.62 L235.25 120.42 L235.41 120.21 L235.58 120.01 L235.74 119.81 L235.91 119.60 L236.07 119.40 L236.24 119.23 L236.40 119.37 L236.56 119.42 L236.73 119.47 L236.89 119.51 L237.06 119.56 L237.22 119.60 L237.39 119.67 L237.55 119.92 L237.71 120.17 L237.88 120.42 L238.04 120.67 L238.21 120.93 L238.37 121.18 L238.54 121.38 L238.70 121.14 L238.87 120.89 L239.03 120.65 L239.19 120.40 L239.36 120.16 L239.52 119.92 L239.69 119.69 L239.85 119.61 L240.02 119.54 L240.18 119.47 L240.34 119.39 L240.51 119.32 L240.67 119.25 L240.84 119.18 L241.00 119.11 L241.17 119.04 L241.33 118.97 L241.50 118.90 L241.66 118.83 L241.82 118.76 L241.99 118.70 L242.15 118.71 L242.32 118.72 L242.48 118.73 L242.65 118.74 L242.81 118.75 L242.97 118.76 L243.14 118.87 L243.30 119.07 L243.47 119.28 L243.63 119.48 L243.80 119.68 L243.96 119.88 L244.13 120.08 L244.29 120.26 L244.45 120.21 L244.62 120.17 L244.78 120.12 L244.95 120.07 L245.11 120.02 L245.28 119.97 L245.44 119.94 L245.60 120.14 L245.77 120.34 L245.93 120.53 L246.10 120.73 L246.26 120.93 L246.43 121.02 L246.59 121.11 L246.76 121.28 L246.92 121.45 L247.08 121.62 L247.25 121.78 L247.41 121.95 L247.58 122.12 L247.74 122.26 L247.91 122.05 L248.07 121.83 L248.23 121.61 L248.40 121.39 L248.56 121.18 L248.73 120.96 L248.89 120.75 L249.06 120.71 L249.22 120.68 L249.39 120.64 L249.55 120.60 L249.71 120.56 L249.88 120.52 L250.04 120.47 L250.21 120.23 L250.37 119.99 L250.54 119.75 L250.70 119.51 L250.86 119.27 L251.03 119.03 L251.19 118.79 L251.36 118.74 L251.52 118.69 L251.69 118.64 L251.85 118.59 L252.02 118.54 L252.18 118.49 L252.34 118.45 L252.51 118.66 L252.67 118.88 L252.84 119.10 L253.00 119.38 L253.17 119.67 L253.33 119.96 L253.49 120.23 L253.66 120.10 L253.82 119.98 L253.99 119.86 L254.15 119.74 L254.32 119.61 L254.48 119.49 L254.65 119.37 L254.81 119.41 L254.97 119.45 L255.14 119.49 L255.30 119.52 L255.47 119.56 L255.63 119.60 L255.80 119.64 L255.96 119.86 L256.12 120.07 L256.29 120.30 L256.45 120.54 L256.62 120.77 L256.78 121.00 L256.95 121.23 L257.11 121.35 L257.28 121.47 L257.44 121.60 L257.60 121.72 L257.77 121.84 L257.93 121.96 L258.10 122.07 L258.26 121.88 L258.43 121.68 L258.59 121.49 L258.75 121.29 L258.92 121.10 L259.08 120.90 L259.25 120.71 L259.41 120.73 L259.58 120.62 L259.74 120.51 L259.91 120.41 L260.07 120.30 L260.23 120.19 L260.40 120.09 L260.56 120.10 L260.73 120.11 L260.89 120.12 L261.06 120.13 L261.22 120.14 L261.38 120.15 L261.55 120.16 L261.71 120.28 L261.88 120.40 L262.04 120.52 L262.21 120.63 L262.37 120.75 L262.54 120.87 L262.70 120.99" stroke="#ff0d0d" stroke-width="1.25" fill="none" stroke-linejoin="round"/>
<path d="M296.50 119.80 L296.78 120.04 L297.05 120.28 L297.33 120.52 L297.60 120.76 L297.88 121.00 L298.16 121.24 L298.43 121.33 L298.71 121.41 L298.98 121.50 L299.26 121.58 L299.54 121.67 L299.81 121.75 L300.09 121.84 L300.36 121.93 L300.64 122.02 L300.92 122.11 L301.19 122.20 L301.47 122.29 L301.74 122.02 L302.02 121.76 L302.30 121.49 L302.57 121.23 L302.85 120.96 L303.12 120.70 L303.40 120.47 L303.68 120.24 L303.95 120.01 L304.23 119.78 L304.50 119.55 L304.78 119.33 L305.06 119.51 L305.33 119.68 L305.61 119.86 L305.88 120.03 L306.16 120.20 L306.44 120.37 L306.71 120.30 L306.99 120.23 L307.26 120.16 L307.54 120.09 L307.81 120.03 L308.09 119.96 L308.37 119.88 L308.64 119.81 L308.92 119.74 L309.19 119.66 L309.47 119.59 L309.75 119.54 L310.02 119.81 L310.30 120.08 L310.57 120.35 L310.85 120.63 L311.13 120.90 L311.40 121.13 L311.68 120.69 L311.95 120.25 L312.23 119.81 L312.51 119.36 L312.78 118.92 L313.06 118.54 L313.33 118.98 L313.61 119.42 L313.89 119.86 L314.16 120.30 L314.44 120.74 L314.71 121.14 L314.99 120.96 L315.27 120.78 L315.54 120.60 L315.82 120.42 L316.09 120.24 L316.37 120.06 L316.65 119.80 L316.92 119.53 L317.20 119.27 L317.47 119.01 L317.75 118.75 L318.03 118.54 L318.30 118.87 L318.58 119.20 L318.85 119.53 L319.13 119.87 L319.41 120.20 L319.68 120.50 L319.96 120.46 L320.23 120.43 L320.51 120.40 L320.79 120.36 L321.06 120.33 L321.34 120.31 L321.61 120.40 L321.89 120.49 L322.17 120.58 L322.44 120.67 L322.72 120.76 L322.99 120.83 L323.27 120.71 L323.55 120.58 L323.82 120.46 L324.10 120.34 L324.37 120.22 L324.65 120.15 L324.93 120.51 L325.20 120.86 L325.48 121.21 L325.75 121.56 L326.03 121.92 L326.31 122.20 L326.58 121.99 L326.86 121.78 L327.13 121.57 L327.41 121.35 L327.68 121.14 L327.96 120.91 L328.24 120.58 L328.51 120.24 L328.79 119.91 L329.06 119.57 L329.34 119.23 L329.62 118.97 L329.89 119.18 L330.17 119.40 L330.44 119.61 L330.72 119.82 L331.00 120.04 L331.27 120.23 L331.55 120.29 L331.82 120.36 L332.10 120.42 L332.38 120.49 L332.65 120.55 L332.93 120.59 L333.20 120.51 L333.48 120.42 L333.76 120.33 L334.03 120.24 L334.31 120.15 L334.58 120.08 L334.86 120.07 L335.14 120.07 L335.41 120.06 L335.69 120.05 L335.96 120.05 L336.24 120.05 L336.52 120.09 L336.79 120.12 L337.07 120.16 L337.34 120.20 L337.62 120.24 L337.90 120.26 L338.17 120.23 L338.45 120.25 L338.72 120.31 L339.00 120.39 L339.28 120.48 L339.55 120.66 L339.83 121.14 L340.10 121.62 L340.38 122.07 L340.66 122.50 L340.93 122.88 L341.21 123.10 L341.48 122.76 L341.76 122.38 L342.04 121.97 L342.31 121.52 L342.59 121.05 L342.86 120.65 L343.14 120.63 L343.42 120.59 L343.69 120.53 L343.97 120.45 L344.24 120.36 L344.52 120.17 L344.80 119.65 L345.07 119.13 L345.35 118.59 L345.62 118.04 L345.90 117.49 L346.18 117.00 L346.45 116.70 L346.73 116.31 L347.00 115.85 L347.28 115.31 L347.56 114.72 L347.83 114.10 L348.11 113.46 L348.38 112.80 L348.66 112.13 L348.93 111.46 L349.21 110.81 L349.49 110.13 L349.76 109.26 L350.04 108.44 L350.31 107.63 L350.59 106.84 L350.87 106.05 L351.14 105.33 L351.42 104.81 L351.69 104.30 L351.97 103.77 L352.25 103.23 L352.52 102.68 L352.80 102.01 L353.07 100.99 L353.35 99.94 L353.63 98.86 L353.90 97.74 L354.18 96.56 L354.45 95.44 L354.73 94.61 L355.01 93.76 L355.28 92.88 L355.56 92.00 L355.83 91.13 L356.11 90.19 L356.39 89.07 L356.66 87.94 L356.94 86.80 L357.21 85.66 L357.49 84.51 L357.77 83.46 L358.04 82.72 L358.32 81.98 L358.59 81.23 L358.87 80.49 L359.15 79.74 L359.42 78.83 L359.70 77.42 L359.97 76.00 L360.25 74.60 L360.53 73.19 L360.80 71.78 L361.08 70.55 L361.35 69.81 L361.63 69.07 L361.91 68.33 L362.18 67.59 L362.46 66.85 L362.73 65.98 L363.01 64.72 L363.29 63.47 L363.56 62.22 L363.84 60.96 L364.11 59.71 L364.39 58.53 L364.67 57.57 L364.94 56.60 L365.22 55.64 L365.49 54.67 L365.77 53.70 L366.05 52.80 L366.32 52.06 L366.60 51.33 L366.87 50.61 L367.15 49.91 L367.43 49.24 L367.70 48.44 L367.98 47.32 L368.25 46.20 L368.53 45.09 L368.81 44.00 L369.08 42.92 L369.36 41.95 L369.63 41.22 L369.91 40.52 L370.18 39.82 L370.46 39.15 L370.74 38.50 L371.01 37.76 L371.29 36.84 L371.56 35.93 L371.84 35.05 L372.12 34.19 L372.39 33.38 L372.67 32.63 L372.94 31.94 L373.22 31.29 L373.50 30.67 L373.77 30.06 L374.05 29.48 L374.32 29.01 L374.60 28.74 L374.88 28.49 L375.15 28.27 L375.43 28.08 L375.70 27.92 L375.98 27.72 L376.26 27.42 L376.53 27.13 L376.81 26.85 L377.08 26.59 L377.36 26.33 L377.64 26.22 L377.91 26.37 L378.19 26.54 L378.46 26.72 L378.74 26.92 L379.02 27.13 L379.29 27.18 L379.57 26.89 L379.84 26.61 L380.12 26.34 L380.40 26.07 L380.67 25.80 L380.95 25.59 L381.22 25.51 L381.50 25.42 L381.78 25.34 L382.05 25.25 L382.33 25.16 L382.60 25.04 L382.88 24.87 L383.16 24.69 L383.43 24.52 L383.71 24.34 L383.98 24.17 L384.26 24.11 L384.54 24.29 L384.81 24.47 L385.09 24.66 L385.36 24.85 L385.64 25.04 L385.92 25.09 L386.19 24.88 L386.47 24.68 L386.74 24.48 L387.02 24.29 L387.30 24.11 L387.57 23.99 L387.85 23.99 L388.12 23.99 L388.40 24.00 L388.68 24.01 L388.95 24.01 L389.23 24.12 L389.50 24.39 L389.78 24.66 L390.05 24.93 L390.33 25.20 L390.61 25.47 L390.88 25.62 L391.16 25.54 L391.43 25.47 L391.71 25.40 L391.99 25.34 L392.26 25.27 L392.54 25.15 L392.81 24.95 L393.09 24.74 L393.37 24.54 L393.64 24.34 L393.92 24.14 L394.19 24.12 L394.47 24.37 L394.75 24.62 L395.02 24.87 L395.30 25.12 L395.57 25.37 L395.85 25.53 L396.13 25.56 L396.40 25.58 L396.68 25.61 L396.95 25.63 L397.23 25.66 L397.51 25.55 L397.78 25.27 L398.06 24.98 L398.33 24.68 L398.61 24.39 L398.89 24.10 L399.16 23.96 L399.44 24.06 L399.71 24.15 L399.99 24.24 L400.27 24.33 L400.54 24.42 L400.82 24.50 L401.09 24.58 L401.37 24.66 L401.65 24.73 L401.92 24.81 L402.20 24.89 L402.47 24.91 L402.75 24.86 L403.03 24.82 L403.30 24.77 L403.58 24.72 L403.85 24.67 L404.13 24.68 L404.41 24.76 L404.68 24.83 L404.96 24.90 L405.23 24.98 L405.51 25.05 L405.79 25.11 L406.06 25.13 L406.34 25.15 L406.61 25.17 L406.89 25.19 L407.17 25.21 L407.44 25.22 L407.72 25.21 L407.99 25.20 L408.27 25.19 L408.55 25.18 L408.82 25.17 L409.10 25.11 L409.37 24.99 L409.65 24.87 L409.93 24.75 L410.20 24.63 L410.48 24.51 L410.75 24.39 L411.03 24.25 L411.30 24.12 L411.58 23.99 L411.86 23.86 L412.13 23.72 L412.41 23.77 L412.68 24.03 L412.96 24.29 L413.24 24.55 L413.51 24.81 L413.79 25.06 L414.06 25.17 L414.34 25.12 L414.62 25.06 L414.89 25.01 L415.17 24.95 L415.44 24.89 L415.72 24.87 L416.00 24.90 L416.27 24.92 L416.55 24.94 L416.82 24.97 L417.10 24.99 L417.38 25.07 L417.65 25.22 L417.93 25.37 L418.20 25.53 L418.48 25.68 L418.76 25.83 L419.03 25.80 L419.31 25.58 L419.58 25.37 L419.86 25.15 L420.14 24.93 L420.41 24.72 L420.69 24.57 L420.96 24.48 L421.24 24.39 L421.52 24.31 L421.79 24.22 L422.07 24.13 L422.34 24.21 L422.62 24.46 L422.90 24.71 L423.17 24.95 L423.45 25.20 L423.72 25.44 L424.00 25.44 L424.28 25.20 L424.55 24.96 L424.83 24.72 L425.10 24.48 L425.38 24.24 L425.66 24.23 L425.93 24.44 L426.21 24.64 L426.48 24.84 L426.76 25.04 L427.04 25.25 L427.31 25.21 L427.59 24.97 L427.86 24.72 L428.14 24.47 L428.42 24.23 L428.69 23.98 L428.97 23.86 L429.24 23.85 L429.52 23.85 L429.80 23.84 L430.07 23.83 L430.35 23.82 L430.62 23.94 L430.90 24.17 L431.17 24.40 L431.45 24.63 L431.73 24.86 L432.00 25.09 L432.28 25.32 L432.55 25.55 L432.83 25.79 L433.11 26.02 L433.38 26.25 L433.66 26.49 L433.93 26.46 L434.21 26.22 L434.49 25.99 L434.76 25.75 L435.04 25.51 L435.31 25.28 L435.59 25.26 L435.87 25.41 L436.14 25.56 L436.42 25.71 L436.69 25.86 L436.97 26.01 L437.25 26.07 L437.52 26.06 L437.80 26.05 L438.07 26.04 L438.35 26.03 L438.63 26.01 L438.90 25.92 L439.18 25.77 L439.45 25.62 L439.73 25.47 L440.01 25.32 L440.28 25.16 L440.56 24.97 L440.83 24.74 L441.11 24.50 L441.39 24.27 L441.66 24.04 L441.94 23.81 L442.21 23.84 L442.49 24.05 L442.77 24.26 L443.04 24.47 L443.32 24.67 L443.59 24.88 L443.87 24.98 L444.15 25.00 L444.42 25.02 L444.70 25.03 L444.97 25.05 L445.25 25.07 L445.53 25.22 L445.80 25.45 L446.08 25.69 L446.35 25.92 L446.63 26.16 L446.91 26.39 L447.18 26.37 L447.46 26.20 L447.73 26.02 L448.01 25.84 L448.29 25.66 L448.56 25.48 L448.84 25.48 L449.11 25.60 L449.39 25.71 L449.67 25.82 L449.94 25.94 L450.22 26.05 L450.49 25.92 L450.77 25.65 L451.05 25.38 L451.32 25.10 L451.60 24.83 L451.87 24.55 L452.15 24.54 L452.42 24.69 L452.70 24.85 L452.98 25.00 L453.25 25.15 L453.53 25.30 L453.80 25.31 L454.08 25.24 L454.36 25.17 L454.63 25.10 L454.91 25.03 L455.18 24.96 L455.46 24.93 L455.74 24.93 L456.01 24.93 L456.29 24.92 L456.56 24.92 L456.84 24.91 L457.12 24.93 L457.39 24.95 L457.67 24.98 L457.94 25.00 L458.22 25.03 L458.50 25.05 L458.77 24.95 L459.05 24.79 L459.32 24.63 L459.60 24.46 L459.88 24.30 L460.15 24.14 L460.43 24.13 L460.70 24.19 L460.98 24.26 L461.26 24.33 L461.53 24.39 L461.81 24.46 L462.08 24.54 L462.36 24.57 L462.64 24.55 L462.91 24.48 L463.19 24.38 L463.46 24.26 L463.74 24.01 L464.02 23.72 L464.29 23.44 L464.57 23.20 L464.84 23.01 L465.12 22.88 L465.40 22.82 L465.67 22.79 L465.95 22.78 L466.22 22.80 L466.50 22.83 L466.78 22.87 L467.05 22.90 L467.33 22.91 L467.60 22.94 L467.88 22.99 L468.16 23.04 L468.43 23.11 L468.71 23.38 L468.98 23.76 L469.26 24.14 L469.54 24.54 L469.81 25.01 L470.09 25.54 L470.36 25.86 L470.64 26.13 L470.92 26.43 L471.19 26.77 L471.47 27.13 L471.74 27.51 L472.02 28.25 L472.29 29.13 L472.57 30.01 L472.85 30.89 L473.12 31.81 L473.40 32.77 L473.67 33.51 L473.95 34.18 L474.23 34.88 L474.50 35.59 L474.78 36.32 L475.05 37.06 L475.33 37.97 L475.61 38.96 L475.88 39.97 L476.16 41.02 L476.43 42.09 L476.71 43.18 L476.99 43.90 L477.26 44.49 L477.54 45.08 L477.81 45.65 L478.09 46.21 L478.37 46.75 L478.64 47.72 L478.92 48.85 L479.19 49.98 L479.47 51.10 L479.75 52.22 L480.02 53.34 L480.30 54.26 L480.57 55.12 L480.85 55.98 L481.13 56.85 L481.40 57.72 L481.68 58.61 L481.95 59.29 L482.23 59.91 L482.51 60.52 L482.78 61.13 L483.06 61.75 L483.33 62.37 L483.61 63.35 L483.89 64.45 L484.16 65.56 L484.44 66.68 L484.71 67.82 L484.99 68.98 L485.27 70.02 L485.54 71.06 L485.82 72.13 L486.09 73.24 L486.37 74.38 L486.65 75.54 L486.92 76.50 L487.20 77.40 L487.47 78.31 L487.75 79.21 L488.03 80.10 L488.30 80.96 L488.58 82.11 L488.85 83.32 L489.13 84.48 L489.41 85.60 L489.68 86.69 L489.96 87.75 L490.23 88.54 L490.51 89.24 L490.79 89.92 L491.06 90.60 L491.34 91.27 L491.61 91.94 L491.89 92.89 L492.17 93.92 L492.44 94.96 L492.72 96.02 L492.99 97.10 L493.27 98.21 L493.54 99.09 L493.82 99.91 L494.10 100.75 L494.37 101.59 L494.65 102.43 L494.92 103.25 L495.20 104.14 L495.48 105.01 L495.75 105.83 L496.03 106.59 L496.30 107.29 L496.58 107.93 L496.86 108.72 L497.13 109.53 L497.41 110.33 L497.68 111.10 L497.96 111.86 L498.24 112.58 L498.51 112.96 L498.79 113.23 L499.06 113.46 L499.34 113.65 L499.62 113.79 L499.89 113.88 L500.17 114.39 L500.44 114.99 L500.72 115.57 L501.00 116.14 L501.27 116.70 L501.55 117.24 L501.82 117.48 L502.10 117.64 L502.38 117.78 L502.65 117.91 L502.93 118.01 L503.20 118.09 L503.48 118.14 L503.76 118.18 L504.03 118.22 L504.31 118.25 L504.58 118.28 L504.86 118.30 L505.14 118.25 L505.41 118.17 L505.69 118.09 L505.96 118.01 L506.24 117.93 L506.52 117.84 L506.79 118.02 L507.07 118.25 L507.34 118.48 L507.62 118.71 L507.90 118.93 L508.17 119.16 L508.45 119.24 L508.72 119.30 L509.00 119.37 L509.28 119.43 L509.55 119.49 L509.83 119.55 L510.10 119.51 L510.38 119.45 L510.66 119.39 L510.93 119.33 L511.21 119.27 L511.48 119.21 L511.76 119.11 L512.04 119.01 L512.31 118.90 L512.59 118.79 L512.86 118.68 L513.14 118.57 L513.42 118.79 L513.69 119.06 L513.97 119.33 L514.24 119.59 L514.52 119.85 L514.79 120.11 L515.07 120.26 L515.35 120.40 L515.62 120.54 L515.90 120.67 L516.17 120.81 L516.45 120.94 L516.73 120.82 L517.00 120.67 L517.28 120.51 L517.55 120.36 L517.83 120.20 L518.11 120.05 L518.38 119.95 L518.66 119.85 L518.93 119.75 L519.21 119.65 L519.49 119.55 L519.76 119.45 L520.04 119.60 L520.31 119.78 L520.59 119.96 L520.87 120.13 L521.14 120.31 L521.42 120.48 L521.69 120.42 L521.97 120.33 L522.25 120.25 L522.52 120.16 L522.80 120.07 L523.07 119.98 L523.35 120.25 L523.63 120.54 L523.90 120.83 L524.18 121.13 L524.45 121.42 L524.73 121.71 L525.01 121.49 L525.28 121.23 L525.56 120.97 L525.83 120.70 L526.11 120.44 L526.39 120.18 L526.66 120.15 L526.94 120.15 L527.21 120.14 L527.49 120.14 L527.77 120.13 L528.04 120.13 L528.32 120.06 L528.59 119.99 L528.87 119.92 L529.15 119.86 L529.42 119.79 L529.70 119.72 L529.97 119.76 L530.25 119.81 L530.53 119.86 L530.80 119.91 L531.08 119.96 L531.35 120.01 L531.63 119.96 L531.91 119.90 L532.18 119.83 L532.46 119.77 L532.73 119.71 L533.01 119.65 L533.29 119.89 L533.56 120.15 L533.84 120.41 L534.11 120.66 L534.39 120.92 L534.66 121.18 L534.94 120.96 L535.22 120.73 L535.49 120.50 L535.77 120.26 L536.04 120.03 L536.32 119.79 L536.60 120.11 L536.87 120.44 L537.15 120.78 L537.42 121.11 L537.70 121.45 L537.98 121.78 L538.25 121.64 L538.53 121.50 L538.80 121.35 L539.08 121.20 L539.36 121.05 L539.63 120.90 L539.91 120.66 L540.18 120.42 L540.46 120.17 L540.74 119.93 L541.01 119.69 L541.29 119.45 L541.56 119.48 L541.84 119.52 L542.12 119.55 L542.39 119.59 L542.67 119.63 L542.94 119.67 L543.22 120.05 L543.50 120.44 L543.77 120.83 L544.05 121.22 L544.32 121.60 L544.60 121.99" stroke="#ff4a55" stroke-width="1.4" fill="none" stroke-linejoin="round"/>
<path d="M296.50 119.88 L296.78 119.97 L297.05 120.15 L297.33 120.40 L297.60 120.73 L297.88 121.10 L298.16 121.45 L298.43 121.55 L298.71 121.28 L298.98 121.01 L299.26 120.73 L299.54 120.46 L299.81 120.19 L300.09 119.91 L300.36 119.91 L300.64 119.99 L300.92 120.07 L301.19 120.14 L301.47 120.22 L301.74 120.30 L302.02 120.34 L302.30 120.23 L302.57 120.13 L302.85 120.02 L303.12 119.91 L303.40 119.80 L303.68 119.69 L303.95 119.69 L304.23 119.77 L304.50 119.85 L304.78 119.93 L305.06 120.01 L305.33 120.09 L305.61 120.17 L305.88 120.06 L306.16 119.94 L306.44 119.81 L306.71 119.69 L306.99 119.56 L307.26 119.44 L307.54 119.41 L307.81 119.56 L308.09 119.72 L308.37 119.87 L308.64 120.03 L308.92 120.18 L309.19 120.34 L309.47 120.42 L309.75 120.46 L310.02 120.51 L310.30 120.56 L310.57 120.61 L310.85 120.65 L311.13 120.68 L311.40 120.59 L311.68 120.49 L311.95 120.40 L312.23 120.30 L312.51 120.21 L312.78 120.11 L313.06 120.07 L313.33 120.09 L313.61 120.10 L313.89 120.11 L314.16 120.13 L314.44 120.14 L314.71 120.15 L314.99 120.21 L315.27 120.28 L315.54 120.35 L315.82 120.42 L316.09 120.49 L316.37 120.56 L316.65 120.60 L316.92 120.59 L317.20 120.58 L317.47 120.57 L317.75 120.56 L318.03 120.55 L318.30 120.54 L318.58 120.49 L318.85 120.40 L319.13 120.32 L319.41 120.23 L319.68 120.15 L319.96 120.07 L320.23 119.99 L320.51 119.99 L320.79 119.99 L321.06 119.99 L321.34 119.99 L321.61 119.99 L321.89 120.00 L322.17 120.04 L322.44 120.15 L322.72 120.25 L322.99 120.36 L323.27 120.46 L323.55 120.56 L323.82 120.67 L324.10 120.67 L324.37 120.66 L324.65 120.65 L324.93 120.64 L325.20 120.63 L325.48 120.62 L325.75 120.64 L326.03 120.76 L326.31 120.89 L326.58 121.01 L326.86 121.14 L327.13 121.26 L327.41 121.39 L327.68 121.25 L327.96 120.94 L328.24 120.64 L328.51 120.34 L328.79 120.04 L329.06 119.74 L329.34 119.44 L329.62 119.61 L329.89 119.77 L330.17 119.94 L330.44 120.10 L330.72 120.27 L331.00 120.43 L331.27 120.47 L331.55 120.34 L331.82 120.20 L332.10 120.07 L332.38 119.93 L332.65 119.80 L332.93 119.66 L333.20 119.70 L333.48 119.78 L333.76 119.86 L334.03 119.94 L334.31 120.02 L334.58 120.10 L334.86 120.14 L335.14 120.00 L335.41 119.87 L335.69 119.74 L335.96 119.61 L336.24 119.47 L336.52 119.34 L336.79 119.31 L337.07 119.34 L337.34 119.38 L337.62 119.41 L337.90 119.45 L338.17 119.54 L338.45 119.71 L338.72 120.00 L339.00 120.32 L339.28 120.67 L339.55 121.02 L339.83 121.35 L340.10 121.65 L340.38 121.83 L340.66 121.80 L340.93 121.69 L341.21 121.54 L341.48 121.35 L341.76 121.17 L342.04 121.00 L342.31 120.99 L342.59 120.96 L342.86 120.86 L343.14 120.69 L343.42 120.44 L343.69 120.13 L343.97 119.76 L344.24 119.38 L344.52 119.01 L344.80 118.64 L345.07 118.25 L345.35 117.86 L345.62 117.46 L345.90 117.05 L346.18 116.55 L346.45 115.98 L346.73 115.35 L347.00 114.67 L347.28 113.94 L347.56 113.18 L347.83 112.40 L348.11 111.60 L348.38 110.80 L348.66 110.01 L348.93 109.24 L349.21 108.50 L349.49 107.79 L349.76 107.09 L350.04 106.39 L350.31 105.70 L350.59 105.01 L350.87 104.31 L351.14 103.60 L351.42 102.89 L351.69 102.15 L351.97 101.39 L352.25 100.61 L352.52 99.80 L352.80 98.95 L353.07 98.06 L353.35 97.10 L353.63 96.08 L353.90 95.01 L354.18 93.92 L354.45 92.82 L354.73 91.72 L355.01 90.64 L355.28 89.60 L355.56 88.56 L355.83 87.54 L356.11 86.51 L356.39 85.49 L356.66 84.47 L356.94 83.45 L357.21 82.43 L357.49 81.42 L357.77 80.40 L358.04 79.39 L358.32 78.37 L358.59 77.36 L358.87 76.34 L359.15 75.32 L359.42 74.31 L359.70 73.29 L359.97 72.28 L360.25 71.27 L360.53 70.25 L360.80 69.24 L361.08 68.23 L361.35 67.22 L361.63 66.20 L361.91 65.19 L362.18 64.17 L362.46 63.16 L362.73 62.14 L363.01 61.12 L363.29 60.10 L363.56 59.08 L363.84 58.06 L364.11 57.03 L364.39 56.01 L364.67 54.98 L364.94 53.96 L365.22 52.93 L365.49 51.90 L365.77 50.87 L366.05 49.84 L366.32 48.81 L366.60 47.77 L366.87 46.71 L367.15 45.65 L367.43 44.58 L367.70 43.51 L367.98 42.46 L368.25 41.42 L368.53 40.41 L368.81 39.43 L369.08 38.47 L369.36 37.51 L369.63 36.56 L369.91 35.63 L370.18 34.72 L370.46 33.84 L370.74 33.01 L371.01 32.22 L371.29 31.48 L371.56 30.76 L371.84 30.04 L372.12 29.35 L372.39 28.70 L372.67 28.09 L372.94 27.55 L373.22 27.08 L373.50 26.70 L373.77 26.35 L374.05 26.03 L374.32 25.72 L374.60 25.44 L374.88 25.18 L375.15 24.94 L375.43 24.74 L375.70 24.55 L375.98 24.40 L376.26 24.28 L376.53 24.17 L376.81 24.07 L377.08 23.99 L377.36 23.91 L377.64 23.84 L377.91 23.77 L378.19 23.71 L378.46 23.64 L378.74 23.57 L379.02 23.50 L379.29 23.43 L379.57 23.36 L379.84 23.28 L380.12 23.21 L380.40 23.14 L380.67 23.07 L380.95 23.00 L381.22 22.95 L381.50 22.89 L381.78 22.85 L382.05 22.82 L382.33 22.79 L382.60 22.77 L382.88 22.76 L383.16 22.74 L383.43 22.72 L383.71 22.70 L383.98 22.69 L384.26 22.68 L384.54 22.66 L384.81 22.65 L385.09 22.64 L385.36 22.63 L385.64 22.62 L385.92 22.62 L386.19 22.61 L386.47 22.61 L386.74 22.61 L387.02 22.61 L387.30 22.63 L387.57 22.67 L387.85 22.71 L388.12 22.77 L388.40 22.83 L388.68 22.89 L388.95 22.96 L389.23 23.02 L389.50 23.08 L389.78 23.14 L390.05 23.18 L390.33 23.23 L390.61 23.27 L390.88 23.31 L391.16 23.35 L391.43 23.39 L391.71 23.43 L391.99 23.47 L392.26 23.51 L392.54 23.55 L392.81 23.59 L393.09 23.57 L393.37 23.54 L393.64 23.53 L393.92 23.51 L394.19 23.51 L394.47 23.51 L394.75 23.52 L395.02 23.53 L395.30 23.50 L395.57 23.51 L395.85 23.52 L396.13 23.53 L396.40 23.54 L396.68 23.56 L396.95 23.60 L397.23 23.68 L397.51 23.76 L397.78 23.83 L398.06 23.91 L398.33 23.99 L398.61 24.06 L398.89 24.01 L399.16 23.93 L399.44 23.84 L399.71 23.76 L399.99 23.67 L400.27 23.58 L400.54 23.55 L400.82 23.74 L401.09 23.93 L401.37 24.11 L401.65 24.30 L401.92 24.48 L402.20 24.66 L402.47 24.72 L402.75 24.72 L403.03 24.72 L403.30 24.72 L403.58 24.71 L403.85 24.71 L404.13 24.71 L404.41 24.73 L404.68 24.75 L404.96 24.78 L405.23 24.80 L405.51 24.82 L405.79 24.84 L406.06 24.82 L406.34 24.71 L406.61 24.61 L406.89 24.50 L407.17 24.40 L407.44 24.30 L407.72 24.19 L407.99 24.25 L408.27 24.36 L408.55 24.46 L408.82 24.57 L409.10 24.68 L409.37 24.78 L409.65 24.87 L409.93 24.88 L410.20 24.88 L410.48 24.88 L410.75 24.88 L411.03 24.88 L411.30 24.89 L411.58 24.82 L411.86 24.70 L412.13 24.58 L412.41 24.46 L412.68 24.34 L412.96 24.23 L413.24 24.11 L413.51 24.06 L413.79 24.03 L414.06 23.99 L414.34 23.95 L414.62 23.91 L414.89 23.87 L415.17 23.87 L415.44 23.92 L415.72 23.97 L416.00 24.02 L416.27 24.07 L416.55 24.12 L416.82 24.17 L417.10 24.36 L417.38 24.60 L417.65 24.84 L417.93 25.08 L418.20 25.32 L418.48 25.56 L418.76 25.76 L419.03 25.65 L419.31 25.54 L419.58 25.44 L419.86 25.33 L420.14 25.22 L420.41 25.11 L420.69 25.06 L420.96 25.07 L421.24 25.08 L421.52 25.09 L421.79 25.10 L422.07 25.11 L422.34 25.12 L422.62 25.13 L422.90 25.14 L423.17 25.16 L423.45 25.17 L423.72 25.18 L424.00 25.19 L424.28 25.18 L424.55 25.11 L424.83 25.04 L425.10 24.97 L425.38 24.90 L425.66 24.83 L425.93 24.76 L426.21 24.61 L426.48 24.41 L426.76 24.22 L427.04 24.03 L427.31 23.83 L427.59 23.64 L427.86 23.47 L428.14 23.65 L428.42 23.84 L428.69 24.02 L428.97 24.20 L429.24 24.39 L429.52 24.57 L429.80 24.69 L430.07 24.73 L430.35 24.76 L430.62 24.80 L430.90 24.83 L431.17 24.87 L431.45 24.91 L431.73 24.81 L432.00 24.68 L432.28 24.56 L432.55 24.43 L432.83 24.31 L433.11 24.18 L433.38 24.10 L433.66 24.15 L433.93 24.21 L434.21 24.26 L434.49 24.31 L434.76 24.37 L435.04 24.42 L435.31 24.44 L435.59 24.43 L435.87 24.43 L436.14 24.42 L436.42 24.42 L436.69 24.41 L436.97 24.41 L437.25 24.48 L437.52 24.55 L437.80 24.61 L438.07 24.68 L438.35 24.75 L438.63 24.82 L438.90 24.84 L439.18 24.78 L439.45 24.72 L439.73 24.66 L440.01 24.60 L440.28 24.54 L440.56 24.48 L440.83 24.43 L441.11 24.39 L441.39 24.36 L441.66 24.32 L441.94 24.28 L442.21 24.24 L442.49 24.24 L442.77 24.44 L443.04 24.65 L443.32 24.85 L443.59 25.05 L443.87 25.25 L444.15 25.45 L444.42 25.53 L444.70 25.50 L444.97 25.47 L445.25 25.44 L445.53 25.42 L445.80 25.39 L446.08 25.36 L446.35 25.14 L446.63 24.90 L446.91 24.67 L447.18 24.43 L447.46 24.20 L447.73 23.96 L448.01 23.81 L448.29 23.83 L448.56 23.85 L448.84 23.87 L449.11 23.89 L449.39 23.91 L449.67 23.93 L449.94 24.02 L450.22 24.13 L450.49 24.25 L450.77 24.37 L451.05 24.48 L451.32 24.60 L451.60 24.70 L451.87 24.74 L452.15 24.79 L452.42 24.83 L452.70 24.87 L452.98 24.92 L453.25 24.96 L453.53 24.94 L453.80 24.87 L454.08 24.79 L454.36 24.72 L454.63 24.64 L454.91 24.57 L455.18 24.50 L455.46 24.57 L455.74 24.65 L456.01 24.74 L456.29 24.82 L456.56 24.91 L456.84 24.99 L457.12 25.03 L457.39 24.95 L457.67 24.88 L457.94 24.80 L458.22 24.72 L458.50 24.65 L458.77 24.57 L459.05 24.43 L459.32 24.25 L459.60 24.08 L459.88 23.90 L460.15 23.73 L460.43 23.55 L460.70 23.42 L460.98 23.63 L461.26 23.82 L461.53 23.98 L461.81 24.11 L462.08 24.19 L462.36 24.16 L462.64 24.02 L462.91 23.82 L463.19 23.61 L463.46 23.36 L463.74 23.12 L464.02 22.91 L464.29 22.74 L464.57 22.64 L464.84 22.61 L465.12 22.63 L465.40 22.69 L465.67 22.78 L465.95 22.90 L466.22 23.04 L466.50 23.21 L466.78 23.40 L467.05 23.61 L467.33 23.83 L467.60 24.06 L467.88 24.31 L468.16 24.56 L468.43 24.82 L468.71 25.10 L468.98 25.45 L469.26 25.86 L469.54 26.33 L469.81 26.84 L470.09 27.39 L470.36 27.96 L470.64 28.54 L470.92 29.12 L471.19 29.71 L471.47 30.32 L471.74 30.96 L472.02 31.63 L472.29 32.32 L472.57 33.05 L472.85 33.80 L473.12 34.57 L473.40 35.37 L473.67 36.20 L473.95 37.08 L474.23 38.04 L474.50 39.06 L474.78 40.13 L475.05 41.23 L475.33 42.33 L475.61 43.43 L475.88 44.51 L476.16 45.54 L476.43 46.50 L476.71 47.43 L476.99 48.33 L477.26 49.21 L477.54 50.07 L477.81 50.91 L478.09 51.75 L478.37 52.58 L478.64 53.42 L478.92 54.25 L479.19 55.09 L479.47 55.95 L479.75 56.82 L480.02 57.71 L480.30 58.62 L480.57 59.54 L480.85 60.48 L481.13 61.42 L481.40 62.37 L481.68 63.33 L481.95 64.30 L482.23 65.26 L482.51 66.24 L482.78 67.21 L483.06 68.18 L483.33 69.16 L483.61 70.13 L483.89 71.10 L484.16 72.07 L484.44 73.05 L484.71 74.03 L484.99 75.01 L485.27 76.00 L485.54 76.98 L485.82 77.97 L486.09 78.96 L486.37 79.95 L486.65 80.93 L486.92 81.92 L487.20 82.90 L487.47 83.88 L487.75 84.86 L488.03 85.84 L488.30 86.81 L488.58 87.77 L488.85 88.74 L489.13 89.71 L489.41 90.68 L489.68 91.65 L489.96 92.62 L490.23 93.61 L490.51 94.59 L490.79 95.59 L491.06 96.60 L491.34 97.63 L491.61 98.71 L491.89 99.83 L492.17 100.96 L492.44 102.11 L492.72 103.25 L492.99 104.39 L493.27 105.50 L493.54 106.57 L493.82 107.60 L494.10 108.56 L494.37 109.46 L494.65 110.28 L494.92 111.04 L495.20 111.79 L495.48 112.52 L495.75 113.23 L496.03 113.92 L496.30 114.58 L496.58 115.20 L496.86 115.80 L497.13 116.36 L497.41 116.87 L497.68 117.35 L497.96 117.77 L498.24 118.15 L498.51 118.51 L498.79 118.87 L499.06 119.22 L499.34 119.57 L499.62 119.90 L499.89 120.21 L500.17 120.49 L500.44 120.75 L500.72 120.96 L501.00 121.14 L501.27 121.26 L501.55 121.34 L501.82 121.35 L502.10 121.35 L502.38 121.34 L502.65 121.33 L502.93 121.32 L503.20 121.30 L503.48 121.28 L503.76 121.24 L504.03 121.16 L504.31 121.06 L504.58 120.97 L504.86 120.97 L505.14 121.00 L505.41 121.08 L505.69 121.20 L505.96 121.36 L506.24 121.54 L506.52 121.54 L506.79 121.50 L507.07 121.47 L507.34 121.44 L507.62 121.41 L507.90 121.39 L508.17 121.37 L508.45 121.40 L508.72 121.42 L509.00 121.45 L509.28 121.48 L509.55 121.50 L509.83 121.53 L510.10 121.41 L510.38 121.19 L510.66 120.97 L510.93 120.75 L511.21 120.53 L511.48 120.31 L511.76 120.09 L512.04 120.22 L512.31 120.35 L512.59 120.48 L512.86 120.62 L513.14 120.75 L513.42 120.89 L513.69 120.99 L513.97 121.05 L514.24 121.11 L514.52 121.17 L514.79 121.22 L515.07 121.28 L515.35 121.34 L515.62 121.31 L515.90 121.25 L516.17 121.19 L516.45 121.13 L516.73 121.07 L517.00 121.01 L517.28 120.92 L517.55 120.69 L517.83 120.45 L518.11 120.22 L518.38 119.99 L518.66 119.75 L518.93 119.52 L519.21 119.52 L519.49 119.72 L519.76 119.91 L520.04 120.10 L520.31 120.30 L520.59 120.49 L520.87 120.69 L521.14 120.62 L521.42 120.53 L521.69 120.44 L521.97 120.35 L522.25 120.26 L522.52 120.18 L522.80 120.13 L523.07 120.15 L523.35 120.18 L523.63 120.21 L523.90 120.24 L524.18 120.27 L524.45 120.30 L524.73 120.33 L525.01 120.37 L525.28 120.41 L525.56 120.44 L525.83 120.48 L526.11 120.52 L526.39 120.56 L526.66 120.61 L526.94 120.66 L527.21 120.72 L527.49 120.77 L527.77 120.83 L528.04 120.88 L528.32 120.90 L528.59 120.86 L528.87 120.83 L529.15 120.79 L529.42 120.76 L529.70 120.72 L529.97 120.69 L530.25 120.68 L530.53 120.68 L530.80 120.68 L531.08 120.68 L531.35 120.68 L531.63 120.67 L531.91 120.72 L532.18 120.87 L532.46 121.03 L532.73 121.19 L533.01 121.34 L533.29 121.50 L533.56 121.66 L533.84 121.46 L534.11 121.07 L534.39 120.69 L534.66 120.31 L534.94 119.92 L535.22 119.54 L535.49 119.18 L535.77 119.29 L536.04 119.40 L536.32 119.51 L536.60 119.62 L536.87 119.72 L537.15 119.83 L537.42 119.92 L537.70 119.99 L537.98 120.06 L538.25 120.13 L538.53 120.20 L538.80 120.27 L539.08 120.33 L539.36 120.37 L539.63 120.39 L539.91 120.42 L540.18 120.45 L540.46 120.47 L540.74 120.50 L541.01 120.53 L541.29 120.58 L541.56 120.63 L541.84 120.68 L542.12 120.73 L542.39 120.78 L542.67 120.83 L542.94 120.76 L543.22 120.61 L543.50 120.46 L543.77 120.31 L544.05 120.16 L544.32 120.01 L544.60 119.86" stroke="#1f77c8" stroke-width="1.4" fill="none" stroke-linejoin="round"/>
<path d="M16.60 288.18 L16.81 288.22 L17.01 288.26 L17.22 288.32 L17.42 288.37 L17.63 288.43 L17.83 288.50 L18.04 288.53 L18.24 288.50 L18.45 288.45 L18.65 288.41 L18.86 288.37 L19.06 288.32 L19.27 288.28 L19.47 288.24 L19.68 288.20 L19.88 288.18 L20.09 288.15 L20.29 288.12 L20.50 288.10 L20.70 288.07 L20.91 288.01 L21.11 287.94 L21.32 287.87 L21.52 287.81 L21.73 287.74 L21.93 287.67 L22.14 287.60 L22.34 287.54 L22.55 287.48 L22.76 287.48 L22.96 287.49 L23.17 287.50 L23.37 287.51 L23.58 287.51 L23.78 287.52 L23.99 287.53 L24.19 287.52 L24.40 287.51 L24.60 287.51 L24.81 287.50 L25.01 287.53 L25.22 287.57 L25.42 287.60 L25.63 287.62 L25.83 287.63 L26.04 287.65 L26.24 287.66 L26.45 287.68 L26.65 287.69 L26.86 287.70 L27.06 287.69 L27.27 287.63 L27.47 287.56 L27.68 287.50 L27.88 287.44 L28.09 287.38 L28.29 287.32 L28.50 287.27 L28.71 287.23 L28.91 287.20 L29.12 287.18 L29.32 287.15 L29.53 287.13 L29.73 287.10 L29.94 287.08 L30.14 287.15 L30.35 287.22 L30.55 287.29 L30.76 287.36 L30.96 287.43 L31.17 287.50 L31.37 287.57 L31.58 287.65 L31.78 287.73 L31.99 287.80 L32.19 287.88 L32.40 287.96 L32.60 288.04 L32.81 288.11 L33.01 288.15 L33.22 288.12 L33.42 288.09 L33.63 288.06 L33.83 288.03 L34.04 288.00 L34.24 287.96 L34.45 287.90 L34.66 287.77 L34.86 287.65 L35.07 287.52 L35.27 287.39 L35.48 287.26 L35.68 287.13 L35.89 287.02 L36.09 287.07 L36.30 287.11 L36.50 287.15 L36.71 287.19 L36.91 287.23 L37.12 287.27 L37.32 287.33 L37.53 287.40 L37.73 287.48 L37.94 287.56 L38.14 287.63 L38.35 287.71 L38.55 287.79 L38.76 287.87 L38.96 287.84 L39.17 287.77 L39.37 287.69 L39.58 287.61 L39.78 287.54 L39.99 287.46 L40.19 287.39 L40.40 287.36 L40.61 287.40 L40.81 287.44 L41.02 287.48 L41.22 287.53 L41.43 287.60 L41.63 287.68 L41.84 287.74 L42.04 287.74 L42.25 287.74 L42.45 287.75 L42.66 287.75 L42.86 287.76 L43.07 287.76 L43.27 287.77 L43.48 287.79 L43.68 287.81 L43.89 287.83 L44.09 287.85 L44.30 287.88 L44.50 287.90 L44.71 287.92 L44.91 287.95 L45.12 287.99 L45.32 288.02 L45.53 288.02 L45.73 288.02 L45.94 288.01 L46.14 288.01 L46.35 287.97 L46.55 287.90 L46.76 287.84 L46.97 287.77 L47.17 287.70 L47.38 287.63 L47.58 287.57 L47.79 287.53 L47.99 287.54 L48.20 287.55 L48.40 287.57 L48.61 287.58 L48.81 287.59 L49.02 287.61 L49.22 287.62 L49.43 287.63 L49.63 287.65 L49.84 287.67 L50.04 287.69 L50.25 287.71 L50.45 287.73 L50.66 287.76 L50.86 287.72 L51.07 287.67 L51.27 287.63 L51.48 287.59 L51.68 287.54 L51.89 287.50 L52.09 287.45 L52.30 287.42 L52.50 287.40 L52.71 287.39 L52.92 287.37 L53.12 287.35 L53.33 287.33 L53.53 287.31 L53.74 287.33 L53.94 287.43 L54.15 287.53 L54.35 287.62 L54.56 287.72 L54.76 287.82 L54.97 287.91 L55.17 287.98 L55.38 287.91 L55.58 287.84 L55.79 287.77 L55.99 287.70 L56.20 287.63 L56.40 287.57 L56.61 287.50 L56.81 287.52 L57.02 287.54 L57.22 287.56 L57.43 287.58 L57.63 287.61 L57.84 287.65 L58.04 287.68 L58.25 287.65 L58.45 287.62 L58.66 287.58 L58.87 287.55 L59.07 287.53 L59.28 287.51 L59.48 287.49 L59.69 287.50 L59.89 287.51 L60.10 287.61 L60.30 287.78 L60.51 288.02 L60.71 288.32 L60.92 288.65 L61.12 288.99 L61.33 289.32 L61.53 289.63 L61.74 289.90 L61.94 290.09 L62.15 290.21 L62.35 290.22 L62.56 290.15 L62.76 290.01 L62.97 289.80 L63.17 289.53 L63.38 289.22 L63.58 288.87 L63.79 288.49 L63.99 288.09 L64.20 287.68 L64.40 287.27 L64.61 286.86 L64.82 286.47 L65.02 286.05 L65.23 285.60 L65.43 285.12 L65.64 284.60 L65.84 284.06 L66.05 283.48 L66.25 282.88 L66.46 282.25 L66.66 281.55 L66.87 280.78 L67.07 279.97 L67.28 279.11 L67.48 278.24 L67.69 277.36 L67.89 276.49 L68.10 275.64 L68.30 274.79 L68.51 273.93 L68.71 273.07 L68.92 272.19 L69.12 271.31 L69.33 270.42 L69.53 269.51 L69.74 268.59 L69.94 267.66 L70.15 266.71 L70.35 265.74 L70.56 264.76 L70.77 263.78 L70.97 262.79 L71.18 261.80 L71.38 260.81 L71.59 259.79 L71.79 258.74 L72.00 257.68 L72.20 256.64 L72.41 255.64 L72.61 254.69 L72.82 253.82 L73.02 253.02 L73.23 252.25 L73.43 251.51 L73.64 250.79 L73.84 250.10 L74.05 249.43 L74.25 248.77 L74.46 248.13 L74.66 247.51 L74.87 246.90 L75.07 246.29 L75.28 245.70 L75.48 245.10 L75.69 244.51 L75.89 243.92 L76.10 243.33 L76.30 242.74 L76.51 242.13 L76.72 241.52 L76.92 240.90 L77.13 240.27 L77.33 239.62 L77.54 238.97 L77.74 238.32 L77.95 237.66 L78.15 237.01 L78.36 236.35 L78.56 235.69 L78.77 235.03 L78.97 234.37 L79.18 233.71 L79.38 233.05 L79.59 232.40 L79.79 231.75 L80.00 231.11 L80.20 230.47 L80.41 229.83 L80.61 229.20 L80.82 228.58 L81.02 227.97 L81.23 227.37 L81.43 226.77 L81.64 226.19 L81.84 225.61 L82.05 225.04 L82.25 224.49 L82.46 223.93 L82.67 223.39 L82.87 222.85 L83.08 222.31 L83.28 221.78 L83.49 221.26 L83.69 220.74 L83.90 220.22 L84.10 219.70 L84.31 219.18 L84.51 218.67 L84.72 218.15 L84.92 217.64 L85.13 217.12 L85.33 216.61 L85.54 216.09 L85.74 215.57 L85.95 215.04 L86.15 214.51 L86.36 213.97 L86.56 213.41 L86.77 212.85 L86.97 212.27 L87.18 211.69 L87.38 211.11 L87.59 210.53 L87.79 209.95 L88.00 209.38 L88.20 208.82 L88.41 208.28 L88.62 207.76 L88.82 207.25 L89.03 206.78 L89.23 206.33 L89.44 205.91 L89.64 205.52 L89.85 205.12 L90.05 204.71 L90.26 204.30 L90.46 203.91 L90.67 203.53 L90.87 203.18 L91.08 202.89 L91.28 202.65 L91.49 202.47 L91.69 202.38 L91.90 202.38 L92.10 202.44 L92.31 202.55 L92.51 202.71 L92.72 202.91 L92.92 203.14 L93.13 203.40 L93.33 203.68 L93.54 203.97 L93.74 204.27 L93.95 204.57 L94.15 204.87 L94.36 205.21 L94.56 205.61 L94.77 206.06 L94.98 206.54 L95.18 207.05 L95.39 207.58 L95.59 208.12 L95.80 208.66 L96.00 209.18 L96.21 209.69 L96.41 210.17 L96.62 210.61 L96.82 211.00 L97.03 211.37 L97.23 211.74 L97.44 212.11 L97.64 212.47 L97.85 212.83 L98.05 213.18 L98.26 213.52 L98.46 213.86 L98.67 214.18 L98.87 214.49 L99.08 214.78 L99.28 215.07 L99.49 215.33 L99.69 215.58 L99.90 215.80 L100.10 216.01 L100.31 216.19 L100.51 216.36 L100.72 216.52 L100.93 216.68 L101.13 216.84 L101.34 216.99 L101.54 217.15 L101.75 217.30 L101.95 217.44 L102.16 217.59 L102.36 217.73 L102.57 217.86 L102.77 217.99 L102.98 218.12 L103.18 218.23 L103.39 218.34 L103.59 218.45 L103.80 218.55 L104.00 218.64 L104.21 218.72 L104.41 218.79 L104.62 218.85 L104.82 218.91 L105.03 218.95 L105.23 218.98 L105.44 219.00 L105.64 219.02 L105.85 219.02 L106.05 219.01 L106.26 218.99 L106.46 218.97 L106.67 218.93 L106.88 218.90 L107.08 218.85 L107.29 218.80 L107.49 218.74 L107.70 218.68 L107.90 218.61 L108.11 218.54 L108.31 218.46 L108.52 218.38 L108.72 218.29 L108.93 218.20 L109.13 218.11 L109.34 218.01 L109.54 217.91 L109.75 217.81 L109.95 217.71 L110.16 217.60 L110.36 217.50 L110.57 217.39 L110.77 217.28 L110.98 217.17 L111.18 217.06 L111.39 216.93 L111.59 216.78 L111.80 216.62 L112.00 216.44 L112.21 216.24 L112.41 216.03 L112.62 215.82 L112.83 215.59 L113.03 215.36 L113.24 215.12 L113.44 214.88 L113.65 214.63 L113.85 214.39 L114.06 214.14 L114.26 213.90 L114.47 213.66 L114.67 213.43 L114.88 213.21 L115.08 213.00 L115.29 212.79 L115.49 212.60 L115.70 212.42 L115.90 212.26 L116.11 212.10 L116.31 211.95 L116.52 211.80 L116.72 211.65 L116.93 211.51 L117.13 211.36 L117.34 211.22 L117.54 211.09 L117.75 210.95 L117.95 210.82 L118.16 210.69 L118.36 210.56 L118.57 210.43 L118.78 210.31 L118.98 210.18 L119.19 210.06 L119.39 209.94 L119.60 209.82 L119.80 209.71 L120.01 209.59 L120.21 209.47 L120.42 209.36 L120.62 209.24 L120.83 209.13 L121.03 209.01 L121.24 208.90 L121.44 208.79 L121.65 208.67 L121.85 208.56 L122.06 208.45 L122.26 208.34 L122.47 208.23 L122.67 208.12 L122.88 208.01 L123.08 207.90 L123.29 207.79 L123.49 207.69 L123.70 207.58 L123.90 207.48 L124.11 207.37 L124.31 207.27 L124.52 207.17 L124.73 207.07 L124.93 206.97 L125.14 206.87 L125.34 206.77 L125.55 206.67 L125.75 206.58 L125.96 206.48 L126.16 206.38 L126.37 206.29 L126.57 206.20 L126.78 206.11 L126.98 206.01 L127.19 205.92 L127.39 205.83 L127.60 205.75 L127.80 205.66 L128.01 205.57 L128.21 205.48 L128.42 205.39 L128.62 205.30 L128.83 205.21 L129.03 205.12 L129.24 205.03 L129.44 204.94 L129.65 204.85 L129.85 204.77 L130.06 204.68 L130.26 204.60 L130.47 204.51 L130.68 204.43 L130.88 204.35 L131.09 204.27 L131.29 204.19 L131.50 204.12 L131.70 204.05 L131.91 203.98 L132.11 203.91 L132.32 203.84 L132.52 203.78 L132.73 203.72 L132.93 203.66 L133.14 203.61 L133.34 203.56 L133.55 203.51 L133.75 203.46 L133.96 203.41 L134.16 203.36 L134.37 203.32 L134.57 203.29 L134.78 203.26 L134.98 203.25 L135.19 203.24 L135.39 203.23 L135.60 203.22 L135.80 203.22 L136.01 203.22 L136.21 203.23 L136.42 203.24 L136.63 203.25 L136.83 203.18 L137.04 203.09 L137.24 203.01 L137.45 202.92 L137.65 202.84 L137.86 202.75 L138.06 202.67 L138.27 202.69 L138.47 202.74 L138.68 202.80 L138.88 202.85 L139.09 202.91 L139.29 202.97 L139.50 203.04 L139.70 203.06 L139.91 203.06 L140.11 203.05 L140.32 203.05 L140.52 203.04 L140.73 203.04 L140.93 203.03 L141.14 203.00 L141.34 202.91 L141.55 202.82 L141.75 202.72 L141.96 202.63 L142.16 202.54 L142.37 202.44 L142.57 202.36 L142.78 202.43 L142.99 202.49 L143.19 202.56 L143.40 202.63 L143.60 202.69 L143.81 202.75 L144.01 202.80 L144.22 202.75 L144.42 202.69 L144.63 202.62 L144.83 202.56 L145.04 202.49 L145.24 202.43 L145.45 202.36 L145.65 202.31 L145.86 202.27 L146.06 202.23 L146.27 202.19 L146.47 202.15 L146.68 202.11 L146.88 202.08 L147.09 202.05 L147.29 202.04 L147.50 202.03 L147.70 202.03 L147.91 202.04 L148.11 202.07 L148.32 202.11 L148.52 202.13 L148.73 202.13 L148.94 202.13 L149.14 202.13 L149.35 202.12 L149.55 202.12 L149.76 202.12 L149.96 202.11 L150.17 202.07 L150.37 202.03 L150.58 201.98 L150.78 201.94 L150.99 201.89 L151.19 201.85 L151.40 201.80 L151.60 201.86 L151.81 201.95 L152.01 202.04 L152.22 202.13 L152.42 202.22 L152.63 202.31 L152.83 202.40 L153.04 202.47 L153.24 202.51 L153.45 202.55 L153.65 202.59 L153.86 202.64 L154.06 202.68 L154.27 202.72 L154.47 202.76 L154.68 202.80 L154.89 202.83 L155.09 202.87 L155.30 202.91 L155.50 202.94 L155.71 202.98 L155.91 203.01 L156.12 202.94 L156.32 202.85 L156.53 202.77 L156.73 202.69 L156.94 202.60 L157.14 202.52 L157.35 202.44 L157.55 202.42 L157.76 202.41 L157.96 202.40 L158.17 202.40 L158.37 202.39 L158.58 202.38 L158.78 202.38 L158.99 202.35 L159.19 202.31 L159.40 202.27 L159.60 202.23 L159.81 202.19 L160.01 202.15 L160.22 202.12 L160.42 202.11 L160.63 202.13 L160.84 202.16 L161.04 202.18 L161.25 202.21 L161.45 202.23 L161.66 202.26 L161.86 202.28 L162.07 202.27 L162.27 202.27 L162.48 202.26 L162.68 202.26 L162.89 202.25 L163.09 202.25 L163.30 202.24 L163.50 202.25 L163.71 202.25 L163.91 202.26 L164.12 202.26 L164.32 202.26 L164.53 202.26 L164.73 202.26 L164.94 202.25 L165.14 202.23 L165.35 202.21 L165.55 202.19 L165.76 202.17 L165.96 202.15 L166.17 202.13 L166.37 202.10 L166.58 202.06 L166.79 202.02 L166.99 201.98 L167.20 201.94 L167.40 201.90 L167.61 201.86 L167.81 201.83 L168.02 201.85 L168.22 201.86 L168.43 201.89 L168.63 201.93 L168.84 201.97 L169.04 202.01 L169.25 202.05 L169.45 202.05 L169.66 202.05 L169.86 202.04 L170.07 202.04 L170.27 202.04 L170.48 202.03 L170.68 202.03 L170.89 201.98 L171.09 201.92 L171.30 201.86 L171.50 201.80 L171.71 201.74 L171.91 201.68 L172.12 201.62 L172.32 201.65 L172.53 201.70 L172.74 201.75 L172.94 201.79 L173.15 201.84 L173.35 201.88 L173.56 201.92 L173.76 201.98 L173.97 202.05 L174.17 202.12 L174.38 202.19 L174.58 202.26 L174.79 202.33 L174.99 202.41 L175.20 202.44 L175.40 202.28 L175.61 202.13 L175.81 201.97 L176.02 201.81 L176.22 201.65 L176.43 201.49 L176.63 201.34 L176.84 201.38 L177.04 201.44 L177.25 201.49 L177.45 201.55 L177.66 201.60 L177.86 201.65 L178.07 201.71 L178.27 201.76 L178.48 201.81 L178.69 201.86 L178.89 201.91 L179.10 201.96 L179.30 202.01 L179.51 202.06 L179.71 202.05 L179.92 201.96 L180.12 201.88 L180.33 201.79 L180.53 201.71 L180.74 201.63 L180.94 201.56 L181.15 201.54 L181.35 201.61 L181.56 201.67 L181.76 201.73 L181.97 201.77 L182.17 201.81 L182.38 201.83 L182.58 201.85 L182.79 201.84 L182.99 201.76 L183.20 201.62 L183.40 201.43 L183.61 201.21 L183.81 200.98 L184.02 200.75 L184.22 200.52 L184.43 200.32 L184.64 200.15 L184.84 200.03 L185.05 199.97 L185.25 199.98 L185.46 200.04 L185.66 200.14 L185.87 200.28 L186.07 200.46 L186.28 200.67 L186.48 200.92 L186.69 201.20 L186.89 201.50 L187.10 201.83 L187.30 202.17 L187.51 202.54 L187.71 202.92 L187.92 203.31 L188.12 203.71 L188.33 204.14 L188.53 204.70 L188.74 205.38 L188.94 206.16 L189.15 206.99 L189.35 207.85 L189.56 208.70 L189.76 209.50 L189.97 210.28 L190.17 211.06 L190.38 211.84 L190.58 212.63 L190.79 213.43 L191.00 214.24 L191.20 215.05 L191.41 215.87 L191.61 216.70 L191.82 217.55 L192.02 218.41 L192.23 219.28 L192.43 220.16 L192.64 221.03 L192.84 221.88 L193.05 222.72 L193.25 223.54 L193.46 224.36 L193.66 225.16 L193.87 225.95 L194.07 226.74 L194.28 227.53 L194.48 228.31 L194.69 229.08 L194.89 229.86 L195.10 230.64 L195.30 231.42 L195.51 232.20 L195.71 232.99 L195.92 233.79 L196.12 234.59 L196.33 235.39 L196.53 236.20 L196.74 237.00 L196.95 237.80 L197.15 238.59 L197.36 239.37 L197.56 240.14 L197.77 240.89 L197.97 241.62 L198.18 242.33 L198.38 243.01 L198.59 243.66 L198.79 244.30 L199.00 244.94 L199.20 245.56 L199.41 246.19 L199.61 246.82 L199.82 247.47 L200.02 248.14 L200.23 248.84 L200.43 249.56 L200.64 250.34 L200.84 251.18 L201.05 252.09 L201.25 253.04 L201.46 254.00 L201.66 254.95 L201.87 255.87 L202.07 256.73 L202.28 257.52 L202.48 258.20 L202.69 258.84 L202.90 259.44 L203.10 260.01 L203.31 260.56 L203.51 261.08 L203.72 261.59 L203.92 262.08 L204.13 262.56 L204.33 263.03 L204.54 263.49 L204.74 263.96 L204.95 264.43 L205.15 264.90 L205.36 265.39 L205.56 265.88 L205.77 266.40 L205.97 266.91 L206.18 267.43 L206.38 267.95 L206.59 268.47 L206.79 268.98 L207.00 269.50 L207.20 270.02 L207.41 270.54 L207.61 271.06 L207.82 271.57 L208.02 272.09 L208.23 272.61 L208.43 273.13 L208.64 273.64 L208.85 274.16 L209.05 274.68 L209.26 275.21 L209.46 275.75 L209.67 276.30 L209.87 276.85 L210.08 277.41 L210.28 277.96 L210.49 278.51 L210.69 279.05 L210.90 279.58 L211.10 280.10 L211.31 280.61 L211.51 281.09 L211.72 281.56 L211.92 282.01 L212.13 282.43 L212.33 282.84 L212.54 283.27 L212.74 283.71 L212.95 284.16 L213.15 284.60 L213.36 285.03 L213.56 285.42 L213.77 285.78 L213.97 286.08 L214.18 286.33 L214.38 286.51 L214.59 286.61 L214.80 286.63 L215.00 286.63 L215.21 286.63 L215.41 286.63 L215.62 286.63 L215.82 286.63 L216.03 286.63 L216.23 286.63 L216.44 286.60 L216.64 286.50 L216.85 286.34 L217.05 286.11 L217.26 285.83 L217.46 285.51 L217.67 285.14 L217.87 284.74 L218.08 284.32 L218.28 283.87 L218.49 283.41 L218.69 282.95 L218.90 282.49 L219.10 282.04 L219.31 281.60 L219.51 281.19 L219.72 280.80 L219.92 280.39 L220.13 279.95 L220.33 279.50 L220.54 279.03 L220.75 278.55 L220.95 278.07 L221.16 277.59 L221.36 277.11 L221.57 276.64 L221.77 276.19 L221.98 275.76 L222.18 275.35 L222.39 274.97 L222.59 274.62 L222.80 274.32 L223.00 274.04 L223.21 273.77 L223.41 273.50 L223.62 273.24 L223.82 272.99 L224.03 272.74 L224.23 272.51 L224.44 272.28 L224.64 272.07 L224.85 271.87 L225.05 271.69 L225.26 271.52 L225.46 271.37 L225.67 271.23 L225.87 271.12 L226.08 271.02 L226.28 270.94 L226.49 270.86 L226.70 270.79 L226.90 270.71 L227.11 270.64 L227.31 270.58 L227.52 270.51 L227.72 270.45 L227.93 270.40 L228.13 270.34 L228.34 270.30 L228.54 270.26 L228.75 270.22 L228.95 270.20 L229.16 270.17 L229.36 270.16 L229.57 270.15 L229.77 270.16 L229.98 270.17 L230.18 270.21 L230.39 270.25 L230.59 270.31 L230.80 270.38 L231.00 270.45 L231.21 270.54 L231.41 270.63 L231.62 270.73 L231.82 270.84 L232.03 270.95 L232.23 271.06 L232.44 271.17 L232.65 271.29 L232.85 271.40 L233.06 271.51 L233.26 271.63 L233.47 271.76 L233.67 271.90 L233.88 272.05 L234.08 272.21 L234.29 272.39 L234.49 272.56 L234.70 272.75 L234.90 272.94 L235.11 273.13 L235.31 273.33 L235.52 273.53 L235.72 273.73 L235.93 273.93 L236.13 274.13 L236.34 274.33 L236.54 274.53 L236.75 274.72 L236.95 274.90 L237.16 275.08 L237.36 275.27 L237.57 275.46 L237.77 275.65 L237.98 275.84 L238.18 276.04 L238.39 276.24 L238.59 276.43 L238.80 276.63 L239.01 276.83 L239.21 277.06 L239.42 277.29 L239.62 277.53 L239.83 277.78 L240.03 278.04 L240.24 278.31 L240.44 278.54 L240.65 278.70 L240.85 278.84 L241.06 278.94 L241.26 279.04 L241.47 279.13 L241.67 279.22 L241.88 279.31 L242.08 279.45 L242.29 279.59 L242.49 279.73 L242.70 279.86 L242.90 279.99 L243.11 280.11 L243.31 280.23 L243.52 280.26 L243.72 280.29 L243.93 280.30 L244.13 280.32 L244.34 280.33 L244.54 280.35 L244.75 280.36 L244.96 280.49 L245.16 280.69 L245.37 280.89 L245.57 281.08 L245.78 281.28 L245.98 281.47 L246.19 281.66 L246.39 281.81 L246.60 281.89 L246.80 281.97 L247.01 282.05 L247.21 282.13 L247.42 282.22 L247.62 282.30 L247.83 282.39 L248.03 282.49 L248.24 282.60 L248.44 282.71 L248.65 282.83 L248.85 282.94 L249.06 283.06 L249.26 283.18 L249.47 283.30 L249.67 283.43 L249.88 283.56 L250.08 283.70 L250.29 283.83 L250.49 283.95 L250.70 284.06 L250.91 284.19 L251.11 284.33 L251.32 284.46 L251.52 284.59 L251.73 284.72 L251.93 284.85 L252.14 284.98 L252.34 285.06 L252.55 285.11 L252.75 285.16 L252.96 285.20 L253.16 285.24 L253.37 285.27 L253.57 285.29 L253.78 285.32 L253.98 285.35 L254.19 285.36 L254.39 285.38 L254.60 285.42 L254.80 285.47 L255.01 285.51 L255.21 285.56 L255.42 285.65 L255.62 285.75 L255.83 285.84 L256.03 285.93 L256.24 286.02 L256.44 286.11 L256.65 286.20 L256.86 286.33 L257.06 286.46 L257.27 286.60 L257.47 286.73 L257.68 286.86 L257.88 286.99 L258.09 287.11 L258.29 287.20 L258.50 287.27 L258.70 287.30 L258.91 287.32 L259.11 287.34 L259.32 287.36 L259.52 287.38 L259.73 287.37 L259.93 287.33 L260.14 287.29 L260.34 287.24 L260.55 287.20 L260.75 287.15 L260.96 287.10 L261.16 287.08 L261.37 287.12 L261.57 287.16 L261.78 287.20 L261.98 287.23 L262.19 287.27 L262.39 287.31 L262.60 287.34" stroke="#ff1a1a" stroke-width="1.25" fill="none" stroke-linejoin="round"/>
<path d="M295.30 286.39 L295.58 286.35 L295.85 286.29 L296.13 286.21 L296.41 286.11 L296.69 286.03 L296.96 285.95 L297.24 285.96 L297.52 285.97 L297.80 285.98 L298.07 285.98 L298.35 285.99 L298.63 286.00 L298.91 286.09 L299.18 286.19 L299.46 286.28 L299.74 286.38 L300.02 286.47 L300.29 286.57 L300.57 286.56 L300.85 286.54 L301.13 286.53 L301.40 286.52 L301.68 286.51 L301.96 286.50 L302.24 286.51 L302.51 286.52 L302.79 286.54 L303.07 286.55 L303.35 286.56 L303.62 286.57 L303.90 286.51 L304.18 286.45 L304.45 286.39 L304.73 286.33 L305.01 286.27 L305.29 286.21 L305.56 286.25 L305.84 286.28 L306.12 286.32 L306.40 286.35 L306.67 286.39 L306.95 286.42 L307.23 286.37 L307.51 286.33 L307.78 286.28 L308.06 286.24 L308.34 286.20 L308.62 286.16 L308.89 286.30 L309.17 286.45 L309.45 286.59 L309.73 286.73 L310.00 286.87 L310.28 287.00 L310.56 286.81 L310.84 286.62 L311.11 286.43 L311.39 286.25 L311.67 286.06 L311.95 285.89 L312.22 285.98 L312.50 286.07 L312.78 286.17 L313.05 286.26 L313.33 286.35 L313.61 286.43 L313.89 286.39 L314.16 286.34 L314.44 286.30 L314.72 286.26 L315.00 286.22 L315.27 286.18 L315.55 286.22 L315.83 286.27 L316.11 286.31 L316.38 286.36 L316.66 286.40 L316.94 286.45 L317.22 286.46 L317.49 286.47 L317.77 286.49 L318.05 286.50 L318.33 286.51 L318.60 286.52 L318.88 286.47 L319.16 286.43 L319.44 286.38 L319.71 286.34 L319.99 286.29 L320.27 286.25 L320.55 286.23 L320.82 286.21 L321.10 286.19 L321.38 286.17 L321.65 286.15 L321.93 286.14 L322.21 286.19 L322.49 286.25 L322.76 286.30 L323.04 286.36 L323.32 286.42 L323.60 286.47 L323.87 286.46 L324.15 286.46 L324.43 286.46 L324.71 286.46 L324.98 286.45 L325.26 286.44 L325.54 286.40 L325.82 286.35 L326.09 286.31 L326.37 286.26 L326.65 286.21 L326.93 286.19 L327.20 286.27 L327.48 286.36 L327.76 286.44 L328.04 286.53 L328.31 286.61 L328.59 286.69 L328.87 286.73 L329.15 286.76 L329.42 286.80 L329.70 286.83 L329.98 286.87 L330.25 286.88 L330.53 286.78 L330.81 286.67 L331.09 286.57 L331.36 286.46 L331.64 286.36 L331.92 286.28 L332.20 286.34 L332.47 286.40 L332.75 286.45 L333.03 286.51 L333.31 286.57 L333.58 286.63 L333.86 286.70 L334.14 286.77 L334.42 286.84 L334.69 286.90 L334.97 286.97 L335.25 287.02 L335.53 286.96 L335.80 286.90 L336.08 286.84 L336.36 286.78 L336.64 286.69 L336.91 286.62 L337.19 286.57 L337.47 286.53 L337.75 286.50 L338.02 286.47 L338.30 286.44 L338.58 286.42 L338.85 286.42 L339.13 286.51 L339.41 286.68 L339.69 286.91 L339.96 287.18 L340.24 287.46 L340.52 287.75 L340.80 288.02 L341.07 288.25 L341.35 288.44 L341.63 288.56 L341.91 288.59 L342.18 288.51 L342.46 288.32 L342.74 288.05 L343.02 287.69 L343.29 287.28 L343.57 286.81 L343.85 286.31 L344.13 285.79 L344.40 285.26 L344.68 284.73 L344.96 284.20 L345.24 283.62 L345.51 282.98 L345.79 282.28 L346.07 281.52 L346.35 280.71 L346.62 279.84 L346.90 278.90 L347.18 277.81 L347.45 276.55 L347.73 275.18 L348.01 273.73 L348.29 272.26 L348.56 270.81 L348.84 269.44 L349.12 268.17 L349.40 266.93 L349.67 265.71 L349.95 264.51 L350.23 263.32 L350.51 262.13 L350.78 260.94 L351.06 259.74 L351.34 258.53 L351.62 257.28 L351.89 256.01 L352.17 254.68 L352.45 253.29 L352.73 251.85 L353.00 250.39 L353.28 248.91 L353.56 247.44 L353.84 245.98 L354.11 244.56 L354.39 243.18 L354.67 241.87 L354.95 240.63 L355.22 239.49 L355.50 238.45 L355.78 237.47 L356.05 236.53 L356.33 235.64 L356.61 234.77 L356.89 233.94 L357.16 233.13 L357.44 232.35 L357.72 231.59 L358.00 230.85 L358.27 230.12 L358.55 229.39 L358.83 228.68 L359.11 227.96 L359.38 227.25 L359.66 226.53 L359.94 225.80 L360.22 225.06 L360.49 224.30 L360.77 223.53 L361.05 222.74 L361.33 221.96 L361.60 221.17 L361.88 220.39 L362.16 219.61 L362.44 218.82 L362.71 218.04 L362.99 217.26 L363.27 216.47 L363.55 215.69 L363.82 214.91 L364.10 214.14 L364.38 213.36 L364.65 212.59 L364.93 211.82 L365.21 211.05 L365.49 210.28 L365.76 209.52 L366.04 208.75 L366.32 207.98 L366.60 207.14 L366.87 206.24 L367.15 205.30 L367.43 204.33 L367.71 203.35 L367.98 202.36 L368.26 201.39 L368.54 200.44 L368.82 199.53 L369.09 198.66 L369.37 197.87 L369.65 197.15 L369.93 196.52 L370.20 196.00 L370.48 195.60 L370.76 195.33 L371.04 195.21 L371.31 195.22 L371.59 195.34 L371.87 195.53 L372.15 195.80 L372.42 196.13 L372.70 196.51 L372.98 196.94 L373.25 197.40 L373.53 197.89 L373.81 198.39 L374.09 198.89 L374.36 199.39 L374.64 199.87 L374.92 200.32 L375.20 200.76 L375.47 201.23 L375.75 201.73 L376.03 202.26 L376.31 202.81 L376.58 203.37 L376.86 203.94 L377.14 204.51 L377.42 205.08 L377.69 205.63 L377.97 206.16 L378.25 206.68 L378.53 207.15 L378.80 207.60 L379.08 207.99 L379.36 208.34 L379.64 208.64 L379.91 208.93 L380.19 209.22 L380.47 209.51 L380.75 209.79 L381.02 210.07 L381.30 210.34 L381.58 210.61 L381.85 210.87 L382.13 211.12 L382.41 211.36 L382.69 211.58 L382.96 211.79 L383.24 211.99 L383.52 212.17 L383.80 212.34 L384.07 212.48 L384.35 212.61 L384.63 212.71 L384.91 212.79 L385.18 212.85 L385.46 212.89 L385.74 212.89 L386.02 212.88 L386.29 212.85 L386.57 212.80 L386.85 212.73 L387.13 212.66 L387.40 212.56 L387.68 212.46 L387.96 212.34 L388.24 212.22 L388.51 212.08 L388.79 211.94 L389.07 211.78 L389.35 211.63 L389.62 211.46 L389.90 211.29 L390.18 211.12 L390.45 210.94 L390.73 210.77 L391.01 210.59 L391.29 210.41 L391.56 210.24 L391.84 210.06 L392.12 209.89 L392.40 209.70 L392.67 209.48 L392.95 209.26 L393.23 209.02 L393.51 208.77 L393.78 208.52 L394.06 208.27 L394.34 208.02 L394.62 207.78 L394.89 207.55 L395.17 207.34 L395.45 207.13 L395.73 206.92 L396.00 206.71 L396.28 206.51 L396.56 206.30 L396.84 206.10 L397.11 205.90 L397.39 205.70 L397.67 205.51 L397.95 205.32 L398.22 205.12 L398.50 204.93 L398.78 204.75 L399.05 204.56 L399.33 204.38 L399.61 204.20 L399.89 204.02 L400.16 203.85 L400.44 203.67 L400.72 203.50 L401.00 203.34 L401.27 203.17 L401.55 203.01 L401.83 202.85 L402.11 202.70 L402.38 202.55 L402.66 202.39 L402.94 202.24 L403.22 202.10 L403.49 201.95 L403.77 201.81 L404.05 201.66 L404.33 201.52 L404.60 201.38 L404.88 201.24 L405.16 201.09 L405.44 200.95 L405.71 200.81 L405.99 200.67 L406.27 200.53 L406.55 200.39 L406.82 200.24 L407.10 200.10 L407.38 199.95 L407.65 199.80 L407.93 199.64 L408.21 199.49 L408.49 199.33 L408.76 199.18 L409.04 199.03 L409.32 198.87 L409.60 198.72 L409.87 198.57 L410.15 198.43 L410.43 198.29 L410.71 198.15 L410.98 198.01 L411.26 197.89 L411.54 197.76 L411.82 197.65 L412.09 197.54 L412.37 197.44 L412.65 197.35 L412.93 197.25 L413.20 197.16 L413.48 197.07 L413.76 196.99 L414.04 196.90 L414.31 196.82 L414.59 196.73 L414.87 196.66 L415.15 196.59 L415.42 196.50 L415.70 196.41 L415.98 196.31 L416.25 196.21 L416.53 196.09 L416.81 195.98 L417.09 195.87 L417.36 195.78 L417.64 195.70 L417.92 195.62 L418.20 195.55 L418.47 195.49 L418.75 195.42 L419.03 195.36 L419.31 195.30 L419.58 195.24 L419.86 195.18 L420.14 195.23 L420.42 195.38 L420.69 195.54 L420.97 195.69 L421.25 195.85 L421.53 196.00 L421.80 196.00 L422.08 195.84 L422.36 195.68 L422.64 195.52 L422.91 195.36 L423.19 195.20 L423.47 195.13 L423.75 195.13 L424.02 195.13 L424.30 195.13 L424.58 195.14 L424.85 195.15 L425.13 195.16 L425.41 195.17 L425.69 195.19 L425.96 195.21 L426.24 195.23 L426.52 195.25 L426.80 195.28 L427.07 195.32 L427.35 195.37 L427.63 195.41 L427.91 195.46 L428.18 195.51 L428.46 195.46 L428.74 195.34 L429.02 195.22 L429.29 195.09 L429.57 194.97 L429.85 194.84 L430.13 194.86 L430.40 195.00 L430.68 195.14 L430.96 195.28 L431.24 195.41 L431.51 195.55 L431.79 195.56 L432.07 195.46 L432.35 195.36 L432.62 195.26 L432.90 195.16 L433.18 195.06 L433.45 194.99 L433.73 194.95 L434.01 194.91 L434.29 194.87 L434.56 194.83 L434.84 194.79 L435.12 194.86 L435.40 195.02 L435.67 195.18 L435.95 195.34 L436.23 195.50 L436.51 195.66 L436.78 195.68 L437.06 195.61 L437.34 195.54 L437.62 195.47 L437.89 195.40 L438.17 195.33 L438.45 195.33 L438.73 195.39 L439.00 195.44 L439.28 195.50 L439.56 195.55 L439.84 195.61 L440.11 195.58 L440.39 195.50 L440.67 195.41 L440.95 195.33 L441.22 195.24 L441.50 195.16 L441.78 195.08 L442.05 195.01 L442.33 194.94 L442.61 194.87 L442.89 194.80 L443.16 194.73 L443.44 194.69 L443.72 194.66 L444.00 194.63 L444.27 194.60 L444.55 194.57 L444.83 194.55 L445.11 194.66 L445.38 194.87 L445.66 195.08 L445.94 195.29 L446.22 195.49 L446.49 195.70 L446.77 195.74 L447.05 195.68 L447.33 195.61 L447.60 195.55 L447.88 195.48 L448.16 195.41 L448.44 195.35 L448.71 195.28 L448.99 195.21 L449.27 195.14 L449.55 195.07 L449.82 195.00 L450.10 194.94 L450.38 194.89 L450.65 194.84 L450.93 194.80 L451.21 194.75 L451.49 194.70 L451.76 194.72 L452.04 194.78 L452.32 194.85 L452.60 194.91 L452.87 194.97 L453.15 195.04 L453.43 195.10 L453.71 195.17 L453.98 195.23 L454.26 195.29 L454.54 195.36 L454.82 195.42 L455.09 195.41 L455.37 195.35 L455.65 195.29 L455.93 195.24 L456.20 195.18 L456.48 195.12 L456.76 195.11 L457.04 195.13 L457.31 195.15 L457.59 195.17 L457.87 195.18 L458.15 195.20 L458.42 195.21 L458.70 195.22 L458.98 195.23 L459.25 195.24 L459.53 195.25 L459.81 195.26 L460.09 195.29 L460.36 195.32 L460.64 195.34 L460.92 195.37 L461.20 195.40 L461.47 195.40 L461.75 195.34 L462.03 195.21 L462.31 195.05 L462.58 194.86 L462.86 194.65 L463.14 194.44 L463.42 194.22 L463.69 193.99 L463.97 193.75 L464.25 193.51 L464.53 193.29 L464.80 193.09 L465.08 192.92 L465.36 192.78 L465.64 192.69 L465.91 192.65 L466.19 192.66 L466.47 192.73 L466.75 192.85 L467.02 193.01 L467.30 193.21 L467.58 193.45 L467.85 193.72 L468.13 194.02 L468.41 194.35 L468.69 194.71 L468.96 195.08 L469.24 195.54 L469.52 196.23 L469.80 197.11 L470.07 198.15 L470.35 199.28 L470.63 200.45 L470.91 201.61 L471.18 202.72 L471.46 203.83 L471.74 205.00 L472.02 206.20 L472.29 207.43 L472.57 208.68 L472.85 209.94 L473.13 211.21 L473.40 212.46 L473.68 213.71 L473.96 214.96 L474.24 216.23 L474.51 217.52 L474.79 218.82 L475.07 220.12 L475.35 221.42 L475.62 222.72 L475.90 224.00 L476.18 225.27 L476.45 226.52 L476.73 227.75 L477.01 228.94 L477.29 230.10 L477.56 231.22 L477.84 232.31 L478.12 233.39 L478.40 234.44 L478.67 235.48 L478.95 236.50 L479.23 237.51 L479.51 238.51 L479.78 239.50 L480.06 240.48 L480.34 241.46 L480.62 242.44 L480.89 243.41 L481.17 244.39 L481.45 245.38 L481.73 246.37 L482.00 247.36 L482.28 248.36 L482.56 249.35 L482.84 250.34 L483.11 251.33 L483.39 252.30 L483.67 253.27 L483.95 254.22 L484.22 255.16 L484.50 256.09 L484.78 256.99 L485.05 257.88 L485.33 258.74 L485.61 259.58 L485.89 260.38 L486.16 261.17 L486.44 261.93 L486.72 262.66 L487.00 263.39 L487.27 264.10 L487.55 264.79 L487.83 265.49 L488.11 266.17 L488.38 266.86 L488.66 267.55 L488.94 268.25 L489.22 268.95 L489.49 269.67 L489.77 270.41 L490.05 271.17 L490.33 271.96 L490.60 272.76 L490.88 273.57 L491.16 274.39 L491.44 275.20 L491.71 276.00 L491.99 276.78 L492.27 277.53 L492.55 278.24 L492.82 278.91 L493.10 279.53 L493.38 280.17 L493.65 280.85 L493.93 281.53 L494.21 282.20 L494.49 282.86 L494.76 283.47 L495.04 284.03 L495.32 284.53 L495.60 284.94 L495.87 285.24 L496.15 285.43 L496.43 285.49 L496.71 285.44 L496.98 285.32 L497.26 285.13 L497.54 284.89 L497.82 284.59 L498.09 284.26 L498.37 283.89 L498.65 283.50 L498.93 283.09 L499.20 282.67 L499.48 282.25 L499.76 281.70 L500.04 281.04 L500.31 280.28 L500.59 279.47 L500.87 278.65 L501.15 277.84 L501.42 277.08 L501.70 276.41 L501.98 275.81 L502.25 275.21 L502.53 274.63 L502.81 274.07 L503.09 273.53 L503.36 273.02 L503.64 272.54 L503.92 272.11 L504.20 271.72 L504.47 271.35 L504.75 270.99 L505.03 270.64 L505.31 270.32 L505.58 270.02 L505.86 269.76 L506.14 269.52 L506.42 269.33 L506.69 269.17 L506.97 269.02 L507.25 268.87 L507.53 268.73 L507.80 268.60 L508.08 268.48 L508.36 268.38 L508.64 268.29 L508.91 268.23 L509.19 268.18 L509.47 268.16 L509.75 268.16 L510.02 268.17 L510.30 268.18 L510.58 268.20 L510.85 268.22 L511.13 268.25 L511.41 268.28 L511.69 268.31 L511.96 268.34 L512.24 268.40 L512.52 268.49 L512.80 268.61 L513.07 268.76 L513.35 268.92 L513.63 269.10 L513.91 269.30 L514.18 269.50 L514.46 269.70 L514.74 269.90 L515.02 270.10 L515.29 270.32 L515.57 270.57 L515.85 270.83 L516.13 271.10 L516.40 271.38 L516.68 271.66 L516.96 271.94 L517.24 272.22 L517.51 272.49 L517.79 272.74 L518.07 272.99 L518.35 273.24 L518.62 273.49 L518.90 273.74 L519.18 274.00 L519.45 274.25 L519.73 274.50 L520.01 274.75 L520.29 275.00 L520.56 275.24 L520.84 275.49 L521.12 275.72 L521.40 275.96 L521.67 276.19 L521.95 276.41 L522.23 276.63 L522.51 276.84 L522.78 277.03 L523.06 277.20 L523.34 277.36 L523.62 277.50 L523.89 277.64 L524.17 277.77 L524.45 277.89 L524.73 278.00 L525.00 278.17 L525.28 278.37 L525.56 278.58 L525.84 278.79 L526.11 279.00 L526.39 279.20 L526.67 279.37 L526.95 279.54 L527.22 279.70 L527.50 279.87 L527.78 280.03 L528.05 280.19 L528.33 280.32 L528.61 280.45 L528.89 280.57 L529.16 280.70 L529.44 280.82 L529.72 280.95 L530.00 281.06 L530.27 281.17 L530.55 281.28 L530.83 281.39 L531.11 281.51 L531.38 281.62 L531.66 281.78 L531.94 281.94 L532.22 282.11 L532.49 282.28 L532.77 282.45 L533.05 282.62 L533.33 282.73 L533.60 282.83 L533.88 282.93 L534.16 283.04 L534.44 283.14 L534.71 283.23 L534.99 283.34 L535.27 283.44 L535.55 283.53 L535.82 283.62 L536.10 283.71 L536.38 283.80 L536.65 283.88 L536.93 283.96 L537.21 284.03 L537.49 284.09 L537.76 284.16 L538.04 284.22 L538.32 284.33 L538.60 284.44 L538.87 284.54 L539.15 284.65 L539.43 284.75 L539.71 284.85 L539.98 285.00 L540.26 285.15 L540.54 285.30 L540.82 285.45 L541.09 285.60 L541.37 285.75 L541.65 285.71 L541.93 285.67 L542.20 285.63 L542.48 285.59 L542.76 285.55 L543.04 285.51 L543.31 285.55 L543.59 285.60 L543.87 285.65 L544.15 285.69 L544.42 285.74 L544.70 285.78" stroke="#ff4a55" stroke-width="1.4" fill="none" stroke-linejoin="round"/>
<path d="M295.30 286.40 L295.58 286.37 L295.85 286.33 L296.13 286.29 L296.41 286.23 L296.69 286.17 L296.96 286.12 L297.24 286.10 L297.52 286.11 L297.80 286.13 L298.07 286.14 L298.35 286.15 L298.63 286.17 L298.91 286.18 L299.18 286.18 L299.46 286.18 L299.74 286.19 L300.02 286.19 L300.29 286.19 L300.57 286.19 L300.85 286.18 L301.13 286.14 L301.40 286.10 L301.68 286.06 L301.96 286.02 L302.24 285.98 L302.51 285.95 L302.79 286.00 L303.07 286.12 L303.35 286.25 L303.62 286.37 L303.90 286.50 L304.18 286.62 L304.45 286.75 L304.73 286.73 L305.01 286.70 L305.29 286.68 L305.56 286.65 L305.84 286.63 L306.12 286.60 L306.40 286.59 L306.67 286.62 L306.95 286.65 L307.23 286.69 L307.51 286.72 L307.78 286.75 L308.06 286.78 L308.34 286.75 L308.62 286.69 L308.89 286.64 L309.17 286.59 L309.45 286.53 L309.73 286.48 L310.00 286.43 L310.28 286.38 L310.56 286.33 L310.84 286.28 L311.11 286.23 L311.39 286.18 L311.67 286.13 L311.95 286.13 L312.22 286.18 L312.50 286.22 L312.78 286.27 L313.05 286.31 L313.33 286.36 L313.61 286.40 L313.89 286.39 L314.16 286.36 L314.44 286.34 L314.72 286.32 L315.00 286.29 L315.27 286.27 L315.55 286.29 L315.83 286.39 L316.11 286.50 L316.38 286.60 L316.66 286.71 L316.94 286.82 L317.22 286.92 L317.49 286.90 L317.77 286.81 L318.05 286.71 L318.33 286.62 L318.60 286.53 L318.88 286.44 L319.16 286.36 L319.44 286.41 L319.71 286.45 L319.99 286.50 L320.27 286.55 L320.55 286.59 L320.82 286.64 L321.10 286.61 L321.38 286.49 L321.65 286.37 L321.93 286.26 L322.21 286.14 L322.49 286.02 L322.76 285.90 L323.04 285.92 L323.32 285.95 L323.60 285.99 L323.87 286.03 L324.15 286.07 L324.43 286.11 L324.71 286.14 L324.98 286.14 L325.26 286.14 L325.54 286.13 L325.82 286.13 L326.09 286.13 L326.37 286.12 L326.65 286.15 L326.93 286.20 L327.20 286.24 L327.48 286.28 L327.76 286.33 L328.04 286.37 L328.31 286.42 L328.59 286.39 L328.87 286.36 L329.15 286.33 L329.42 286.30 L329.70 286.27 L329.98 286.24 L330.25 286.22 L330.53 286.22 L330.81 286.22 L331.09 286.21 L331.36 286.21 L331.64 286.21 L331.92 286.21 L332.20 286.24 L332.47 286.29 L332.75 286.33 L333.03 286.38 L333.31 286.42 L333.58 286.46 L333.86 286.50 L334.14 286.51 L334.42 286.52 L334.69 286.52 L334.97 286.53 L335.25 286.54 L335.53 286.54 L335.80 286.54 L336.08 286.52 L336.36 286.50 L336.64 286.48 L336.91 286.46 L337.19 286.44 L337.47 286.42 L337.75 286.43 L338.02 286.43 L338.30 286.43 L338.58 286.42 L338.85 286.43 L339.13 286.56 L339.41 286.79 L339.69 287.09 L339.96 287.43 L340.24 287.80 L340.52 288.15 L340.80 288.47 L341.07 288.73 L341.35 288.90 L341.63 288.95 L341.91 288.87 L342.18 288.65 L342.46 288.32 L342.74 287.89 L343.02 287.38 L343.29 286.81 L343.57 286.19 L343.85 285.55 L344.13 284.91 L344.40 284.28 L344.68 283.66 L344.96 282.99 L345.24 282.26 L345.51 281.46 L345.79 280.61 L346.07 279.68 L346.35 278.68 L346.62 277.56 L346.90 276.21 L347.18 274.69 L347.45 273.07 L347.73 271.42 L348.01 269.80 L348.29 268.29 L348.56 266.93 L348.84 265.65 L349.12 264.42 L349.40 263.22 L349.67 262.05 L349.95 260.90 L350.23 259.75 L350.51 258.60 L350.78 257.43 L351.06 256.23 L351.34 255.00 L351.62 253.72 L351.89 252.40 L352.17 251.05 L352.45 249.68 L352.73 248.31 L353.00 246.94 L353.28 245.58 L353.56 244.25 L353.84 242.96 L354.11 241.71 L354.39 240.52 L354.67 239.36 L354.95 238.21 L355.22 237.08 L355.50 235.96 L355.78 234.86 L356.05 233.77 L356.33 232.70 L356.61 231.65 L356.89 230.61 L357.16 229.59 L357.44 228.59 L357.72 227.61 L358.00 226.65 L358.27 225.70 L358.55 224.78 L358.83 223.87 L359.11 222.99 L359.38 222.14 L359.66 221.31 L359.94 220.50 L360.22 219.71 L360.49 218.94 L360.77 218.18 L361.05 217.43 L361.33 216.69 L361.60 215.95 L361.88 215.21 L362.16 214.46 L362.44 213.72 L362.71 212.96 L362.99 212.19 L363.27 211.41 L363.55 210.61 L363.82 209.79 L364.10 208.96 L364.38 208.11 L364.65 207.26 L364.93 206.40 L365.21 205.54 L365.49 204.68 L365.76 203.83 L366.04 202.98 L366.32 202.14 L366.60 201.31 L366.87 200.50 L367.15 199.71 L367.43 198.94 L367.71 198.19 L367.98 197.47 L368.26 196.69 L368.54 195.86 L368.82 195.01 L369.09 194.16 L369.37 193.33 L369.65 192.55 L369.93 191.85 L370.20 191.25 L370.48 190.77 L370.76 190.44 L371.04 190.28 L371.31 190.31 L371.59 190.48 L371.87 190.78 L372.15 191.17 L372.42 191.65 L372.70 192.19 L372.98 192.78 L373.25 193.39 L373.53 194.00 L373.81 194.59 L374.09 195.16 L374.36 195.71 L374.64 196.33 L374.92 197.00 L375.20 197.70 L375.47 198.43 L375.75 199.19 L376.03 199.95 L376.31 200.71 L376.58 201.47 L376.86 202.20 L377.14 202.91 L377.42 203.58 L377.69 204.20 L377.97 204.76 L378.25 205.26 L378.53 205.68 L378.80 206.04 L379.08 206.39 L379.36 206.74 L379.64 207.09 L379.91 207.43 L380.19 207.77 L380.47 208.09 L380.75 208.41 L381.02 208.71 L381.30 209.01 L381.58 209.29 L381.85 209.55 L382.13 209.80 L382.41 210.03 L382.69 210.24 L382.96 210.43 L383.24 210.60 L383.52 210.74 L383.80 210.86 L384.07 210.96 L384.35 211.02 L384.63 211.06 L384.91 211.07 L385.18 211.06 L385.46 211.04 L385.74 211.02 L386.02 210.98 L386.29 210.94 L386.57 210.89 L386.85 210.83 L387.13 210.77 L387.40 210.70 L387.68 210.62 L387.96 210.54 L388.24 210.45 L388.51 210.36 L388.79 210.27 L389.07 210.17 L389.35 210.07 L389.62 209.97 L389.90 209.87 L390.18 209.76 L390.45 209.66 L390.73 209.55 L391.01 209.45 L391.29 209.34 L391.56 209.22 L391.84 209.08 L392.12 208.93 L392.40 208.77 L392.67 208.60 L392.95 208.43 L393.23 208.25 L393.51 208.07 L393.78 207.88 L394.06 207.70 L394.34 207.52 L394.62 207.33 L394.89 207.16 L395.17 206.99 L395.45 206.82 L395.73 206.64 L396.00 206.47 L396.28 206.29 L396.56 206.12 L396.84 205.94 L397.11 205.76 L397.39 205.58 L397.67 205.40 L397.95 205.22 L398.22 205.05 L398.50 204.87 L398.78 204.69 L399.05 204.52 L399.33 204.34 L399.61 204.17 L399.89 204.00 L400.16 203.83 L400.44 203.66 L400.72 203.50 L401.00 203.34 L401.27 203.18 L401.55 203.03 L401.83 202.87 L402.11 202.72 L402.38 202.57 L402.66 202.42 L402.94 202.27 L403.22 202.12 L403.49 201.97 L403.77 201.82 L404.05 201.68 L404.33 201.53 L404.60 201.39 L404.88 201.25 L405.16 201.10 L405.44 200.96 L405.71 200.82 L405.99 200.67 L406.27 200.53 L406.55 200.39 L406.82 200.24 L407.10 200.10 L407.38 199.95 L407.65 199.80 L407.93 199.64 L408.21 199.49 L408.49 199.33 L408.76 199.18 L409.04 199.03 L409.32 198.87 L409.60 198.72 L409.87 198.57 L410.15 198.43 L410.43 198.29 L410.71 198.15 L410.98 198.01 L411.26 197.89 L411.54 197.76 L411.82 197.65 L412.09 197.54 L412.37 197.44 L412.65 197.35 L412.93 197.25 L413.20 197.16 L413.48 197.07 L413.76 196.99 L414.04 196.90 L414.31 196.82 L414.59 196.73 L414.87 196.68 L415.15 196.61 L415.42 196.53 L415.70 196.44 L415.98 196.34 L416.25 196.24 L416.53 196.15 L416.81 196.08 L417.09 196.00 L417.36 195.95 L417.64 195.90 L417.92 195.85 L418.20 195.82 L418.47 195.87 L418.75 195.93 L419.03 195.99 L419.31 196.04 L419.58 196.10 L419.86 196.16 L420.14 196.18 L420.42 196.16 L420.69 196.15 L420.97 196.14 L421.25 196.12 L421.53 196.11 L421.80 196.10 L422.08 196.01 L422.36 195.92 L422.64 195.82 L422.91 195.73 L423.19 195.64 L423.47 195.55 L423.75 195.47 L424.02 195.45 L424.30 195.42 L424.58 195.40 L424.85 195.38 L425.13 195.36 L425.41 195.33 L425.69 195.32 L425.96 195.30 L426.24 195.28 L426.52 195.26 L426.80 195.25 L427.07 195.24 L427.35 195.22 L427.63 195.19 L427.91 195.15 L428.18 195.12 L428.46 195.09 L428.74 195.05 L429.02 195.02 L429.29 194.99 L429.57 194.97 L429.85 194.94 L430.13 194.92 L430.40 194.89 L430.68 194.87 L430.96 194.85 L431.24 194.88 L431.51 194.92 L431.79 194.97 L432.07 195.01 L432.35 195.05 L432.62 195.10 L432.90 195.13 L433.18 195.11 L433.45 195.10 L433.73 195.08 L434.01 195.06 L434.29 195.04 L434.56 195.03 L434.84 195.07 L435.12 195.14 L435.40 195.22 L435.67 195.29 L435.95 195.37 L436.23 195.44 L436.51 195.52 L436.78 195.52 L437.06 195.53 L437.34 195.53 L437.62 195.53 L437.89 195.54 L438.17 195.54 L438.45 195.52 L438.73 195.46 L439.00 195.39 L439.28 195.33 L439.56 195.27 L439.84 195.21 L440.11 195.14 L440.39 195.12 L440.67 195.10 L440.95 195.08 L441.22 195.06 L441.50 195.04 L441.78 195.02 L442.05 195.01 L442.33 195.00 L442.61 195.00 L442.89 195.00 L443.16 194.99 L443.44 194.99 L443.72 194.99 L444.00 194.99 L444.27 195.00 L444.55 195.00 L444.83 195.01 L445.11 195.01 L445.38 195.02 L445.66 195.03 L445.94 195.02 L446.22 195.01 L446.49 195.00 L446.77 194.99 L447.05 194.99 L447.33 194.98 L447.60 194.97 L447.88 194.97 L448.16 194.97 L448.44 194.97 L448.71 194.97 L448.99 194.97 L449.27 194.96 L449.55 195.05 L449.82 195.16 L450.10 195.27 L450.38 195.39 L450.65 195.50 L450.93 195.61 L451.21 195.71 L451.49 195.66 L451.76 195.62 L452.04 195.57 L452.32 195.53 L452.60 195.48 L452.87 195.44 L453.15 195.39 L453.43 195.33 L453.71 195.28 L453.98 195.23 L454.26 195.18 L454.54 195.12 L454.82 195.07 L455.09 195.06 L455.37 195.06 L455.65 195.05 L455.93 195.04 L456.20 195.04 L456.48 195.03 L456.76 195.05 L457.04 195.15 L457.31 195.24 L457.59 195.33 L457.87 195.43 L458.15 195.52 L458.42 195.61 L458.70 195.56 L458.98 195.44 L459.25 195.32 L459.53 195.20 L459.81 195.09 L460.09 194.97 L460.36 194.86 L460.64 194.93 L460.92 195.01 L461.20 195.08 L461.47 195.15 L461.75 195.20 L462.03 195.17 L462.31 195.05 L462.58 194.85 L462.86 194.63 L463.14 194.37 L463.42 194.10 L463.69 193.82 L463.97 193.54 L464.25 193.27 L464.53 193.02 L464.80 192.79 L465.08 192.59 L465.36 192.44 L465.64 192.33 L465.91 192.28 L466.19 192.30 L466.47 192.40 L466.75 192.55 L467.02 192.76 L467.30 193.02 L467.58 193.32 L467.85 193.65 L468.13 194.01 L468.41 194.39 L468.69 194.84 L468.96 195.47 L469.24 196.25 L469.52 197.16 L469.80 198.16 L470.07 199.23 L470.35 200.33 L470.63 201.44 L470.91 202.57 L471.18 203.82 L471.46 205.18 L471.74 206.61 L472.02 208.08 L472.29 209.57 L472.57 211.05 L472.85 212.49 L473.13 213.86 L473.40 215.21 L473.68 216.56 L473.96 217.90 L474.24 219.23 L474.51 220.56 L474.79 221.88 L475.07 223.20 L475.35 224.51 L475.62 225.81 L475.90 227.10 L476.18 228.39 L476.45 229.67 L476.73 230.95 L477.01 232.23 L477.29 233.52 L477.56 234.81 L477.84 236.10 L478.12 237.38 L478.40 238.65 L478.67 239.90 L478.95 241.14 L479.23 242.35 L479.51 243.53 L479.78 244.67 L480.06 245.78 L480.34 246.85 L480.62 247.88 L480.89 248.90 L481.17 249.89 L481.45 250.86 L481.73 251.81 L482.00 252.73 L482.28 253.64 L482.56 254.54 L482.84 255.41 L483.11 256.28 L483.39 257.12 L483.67 257.94 L483.95 258.73 L484.22 259.50 L484.50 260.26 L484.78 261.00 L485.05 261.74 L485.33 262.47 L485.61 263.20 L485.89 263.94 L486.16 264.68 L486.44 265.43 L486.72 266.20 L487.00 266.98 L487.27 267.79 L487.55 268.62 L487.83 269.48 L488.11 270.37 L488.38 271.26 L488.66 272.17 L488.94 273.08 L489.22 273.99 L489.49 274.90 L489.77 275.79 L490.05 276.67 L490.33 277.52 L490.60 278.37 L490.88 279.21 L491.16 280.05 L491.44 280.88 L491.71 281.69 L491.99 282.48 L492.27 283.25 L492.55 283.99 L492.82 284.73 L493.10 285.49 L493.38 286.24 L493.65 286.95 L493.93 287.61 L494.21 288.18 L494.49 288.65 L494.76 289.03 L495.04 289.40 L495.32 289.74 L495.60 290.04 L495.87 290.26 L496.15 290.39 L496.43 290.40 L496.71 290.31 L496.98 290.13 L497.26 289.88 L497.54 289.58 L497.82 289.24 L498.09 288.88 L498.37 288.51 L498.65 288.04 L498.93 287.45 L499.20 286.76 L499.48 285.99 L499.76 285.17 L500.04 284.33 L500.31 283.47 L500.59 282.63 L500.87 281.83 L501.15 281.09 L501.42 280.38 L501.70 279.66 L501.98 278.93 L502.25 278.21 L502.53 277.51 L502.81 276.84 L503.09 276.21 L503.36 275.63 L503.64 275.10 L503.92 274.61 L504.20 274.13 L504.47 273.67 L504.75 273.24 L505.03 272.84 L505.31 272.46 L505.58 272.12 L505.86 271.82 L506.14 271.55 L506.42 271.29 L506.69 271.04 L506.97 270.81 L507.25 270.60 L507.53 270.40 L507.80 270.23 L508.08 270.08 L508.36 269.95 L508.64 269.83 L508.91 269.71 L509.19 269.60 L509.47 269.50 L509.75 269.41 L510.02 269.34 L510.30 269.28 L510.58 269.26 L510.85 269.26 L511.13 269.29 L511.41 269.36 L511.69 269.44 L511.96 269.54 L512.24 269.65 L512.52 269.77 L512.80 269.89 L513.07 270.00 L513.35 270.12 L513.63 270.25 L513.91 270.39 L514.18 270.54 L514.46 270.69 L514.74 270.86 L515.02 271.03 L515.29 271.20 L515.57 271.38 L515.85 271.57 L516.13 271.76 L516.40 271.95 L516.68 272.14 L516.96 272.34 L517.24 272.53 L517.51 272.73 L517.79 272.92 L518.07 273.12 L518.35 273.33 L518.62 273.54 L518.90 273.77 L519.18 274.00 L519.45 274.23 L519.73 274.47 L520.01 274.71 L520.29 274.95 L520.56 275.20 L520.84 275.44 L521.12 275.68 L521.40 275.92 L521.67 276.16 L521.95 276.39 L522.23 276.61 L522.51 276.83 L522.78 277.04 L523.06 277.23 L523.34 277.41 L523.62 277.60 L523.89 277.78 L524.17 277.96 L524.45 278.14 L524.73 278.25 L525.00 278.30 L525.28 278.34 L525.56 278.39 L525.84 278.43 L526.11 278.47 L526.39 278.52 L526.67 278.79 L526.95 279.05 L527.22 279.30 L527.50 279.56 L527.78 279.82 L528.05 280.07 L528.33 280.26 L528.61 280.38 L528.89 280.50 L529.16 280.62 L529.44 280.74 L529.72 280.86 L530.00 280.99 L530.27 281.09 L530.55 281.20 L530.83 281.31 L531.11 281.41 L531.38 281.52 L531.66 281.63 L531.94 281.77 L532.22 281.97 L532.49 282.17 L532.77 282.37 L533.05 282.58 L533.33 282.78 L533.60 282.98 L533.88 283.12 L534.16 283.22 L534.44 283.32 L534.71 283.41 L534.99 283.51 L535.27 283.60 L535.55 283.68 L535.82 283.69 L536.10 283.69 L536.38 283.68 L536.65 283.67 L536.93 283.66 L537.21 283.64 L537.49 283.69 L537.76 283.86 L538.04 284.01 L538.32 284.17 L538.60 284.32 L538.87 284.48 L539.15 284.63 L539.43 284.73 L539.71 284.82 L539.98 284.90 L540.26 284.99 L540.54 285.07 L540.82 285.16 L541.09 285.24 L541.37 285.33 L541.65 285.42 L541.93 285.51 L542.20 285.60 L542.48 285.69 L542.76 285.78 L543.04 285.81 L543.31 285.79 L543.59 285.77 L543.87 285.75 L544.15 285.73 L544.42 285.71 L544.70 285.68" stroke="#1f77c8" stroke-width="1.4" fill="none" stroke-linejoin="round"/>
<rect x="496.60" y="12.80" width="47.00" height="20.60" fill="#ffffff" stroke="#9a9a9a" stroke-width="0.7"/>
<path d="M498.8 17.30H511.4" stroke="#ff4a55" stroke-width="1.1"/>
<path d="M498.8 27.20H511.4" stroke="#1f77c8" stroke-width="1.1"/>
<text transform="translate(513.30 19.80) scale(0.8894 1)" class="lg" style="font-size:6.70px">Measured</text>
<text transform="translate(513.30 29.70) scale(0.8896 1)" class="lg" style="font-size:6.70px">Estimated</text>
<rect x="497.20" y="184.40" width="45.60" height="18.80" fill="#ffffff" stroke="#9a9a9a" stroke-width="0.7"/>
<path d="M498.8 188.20H511.4" stroke="#ff4a55" stroke-width="1.1"/>
<path d="M498.8 198.30H511.4" stroke="#1f77c8" stroke-width="1.1"/>
<text transform="translate(513.30 190.70) scale(0.8894 1)" class="lg" style="font-size:6.70px">Measured</text>
<text transform="translate(513.30 200.80) scale(0.8896 1)" class="lg" style="font-size:6.70px">Estimated</text>
<text transform="translate(122.40 16.60) scale(1.0093 1)" class="tt" style="font-size:5.90px">LQR control</text>
<text transform="translate(386.00 7.10) scale(1.0145 1)" class="tt" style="font-size:6.00px">Kalman filter estimation</text>
<text transform="translate(119.90 185.80) scale(1.0978 1)" class="tt" style="font-size:6.20px">LQG control</text>
<text transform="translate(385.50 175.20) scale(1.0115 1)" class="tt" style="font-size:6.00px">Kalman filter estimation</text>
<text transform="translate(130.50 147.80) scale(1.0617 1)" class="xl" style="font-size:6.80px">Time (s)</text>
<text transform="translate(411.00 147.20) scale(1.0517 1)" class="xl" style="font-size:6.00px">Time (s)</text>
<text transform="translate(128.50 315.30) scale(1.0353 1)" class="xl" style="font-size:7.00px">Time (s)</text>
<text transform="translate(412.90 315.50) scale(1.0609 1)" class="xl" style="font-size:6.00px">Time (s)</text>
<text transform="translate(7.60 94.60) rotate(-90) translate(-0.00 0) scale(0.9595 1)" class="yl" style="font-size:6.20px">Velocity (m/s)</text>
<text transform="translate(287.70 88.80) rotate(-90) translate(-0.00 0) scale(0.9665 1)" class="yl" style="font-size:5.50px">Velocity (m/s)</text>
<text transform="translate(7.60 262.60) rotate(-90) translate(-0.00 0) scale(0.9676 1)" class="yl" style="font-size:6.20px">Velocity (m/s)</text>
<text transform="translate(287.40 258.80) rotate(-90) translate(-0.00 0) scale(0.9395 1)" class="yl" style="font-size:5.80px">Velocity (m/s)</text>
<text transform="translate(127.00 163.30) scale(0.9639 1)" class="pl" style="font-size:11.30px">(a)</text>
<text transform="translate(407.75 162.80) scale(0.9885 1)" class="pl" style="font-size:11.30px">(b)</text>
<text transform="translate(127.75 330.40) scale(0.9448 1)" class="pl" style="font-size:11.30px">(c)</text>
<text transform="translate(407.75 329.60) scale(1.0102 1)" class="pl" style="font-size:11.30px">(d)</text>
</svg>
</body></html>
